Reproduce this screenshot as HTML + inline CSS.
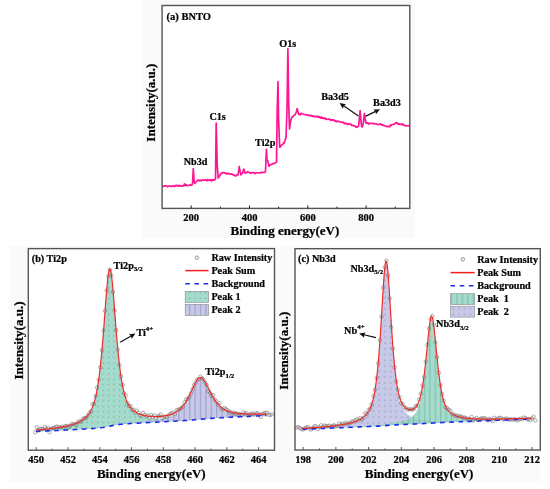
<!DOCTYPE html>
<html><head><meta charset="utf-8"><title>XPS BNTO</title>
<style>html,body{margin:0;padding:0;background:#fff;} svg{display:block;}</style>
</head><body>
<svg width="550" height="489" viewBox="0 0 550 489" font-family="'Liberation Serif','Times New Roman',serif" font-weight="bold">
<style>text{fill:#000;stroke:#000;stroke-width:0.22px;}</style>
<defs>
<pattern id="dotsG" width="5.4" height="5.4" patternUnits="userSpaceOnUse" x="0" y="0"><rect width="5.4" height="5.4" fill="#94d5c3"/><circle cx="0.5" cy="1.3" r="0.8" fill="#6f9f90"/></pattern>
<pattern id="dotsP" width="5.7" height="5.7" patternUnits="userSpaceOnUse" x="0" y="0"><rect width="5.7" height="5.7" fill="#bebee4"/><circle cx="3.0" cy="1.1" r="0.8" fill="#9292b6"/></pattern>
<pattern id="strP" width="5.4" height="10" patternUnits="userSpaceOnUse" x="0" y="0"><rect width="5.4" height="10" fill="#bebee4"/><rect x="0" width="1.3" height="10" fill="#9494c8"/></pattern>
<pattern id="strG" width="5.4" height="10" patternUnits="userSpaceOnUse" x="0" y="0"><rect width="5.4" height="10" fill="#94d5c3"/><rect x="2.65" width="1.3" height="10" fill="#74b8a2"/></pattern>
<marker id="ah" viewBox="0 0 10 10" refX="9" refY="5" markerWidth="5" markerHeight="5" orient="auto-start-reverse" markerUnits="userSpaceOnUse"><path d="M0,0 L10,5 L0,10 z" fill="#111"/></marker>
</defs>
<rect width="550" height="489" fill="#fff"/>
<rect x="143" y="0" width="272" height="238" fill="#fafafa"/>
<rect x="162" y="5.5" width="247.7" height="203" fill="#fff"/>
<rect x="9.5" y="246" width="531" height="235.5" fill="#fafafa"/>
<rect x="28.3" y="248.6" width="246.2" height="201.6" fill="#fff"/>
<rect x="295" y="248.7" width="245.3" height="201.3" fill="#fff"/>
<polyline points="162,186.3 162.7,186.3 163.5,186.4 164.2,186.1 164.9,185.9 165.6,186 166.4,185.8 167.1,186.3 167.8,186.8 168.5,186 169.3,185.9 170,186.2 170.7,186.4 171.5,186.3 172.2,186.2 172.9,185.7 173.6,186.1 174.4,186.5 175.1,185.5 175.8,185.9 176.5,185.3 177.3,185.5 178,186.1 178.8,185.3 179.6,186 180.4,185.5 181.1,186.2 181.9,186.1 182.7,185.9 183.5,186 184.5,183.8 185.5,185.8 186.3,184.6 187.2,185.4 188,185.6 188.7,185.5 189.4,185.5 190.2,184.7 190.9,185.1 191.6,185.3 192.5,184 193.3,168.7 194.1,181 194.7,183.4 196,182 197.1,180.7 197.8,180.2 198.5,180.2 199.3,181 200,180.1 200.7,180.4 201.4,180.8 202.2,180 202.9,180.2 203.6,180.2 204.3,180.2 205,180.2 205.7,179.6 206.4,180.2 207.2,180.8 207.9,179.4 208.6,180.5 209.3,180.2 210,180.1 210.8,179.8 211.5,181 212.2,180.4 213,179.5 213.8,180.1 214.5,180 215.5,179 216.2,123.1 217.2,165 218.2,178.1 219.5,176 220.2,175 221,173.5 222.1,172.9 223.1,172.4 223.8,172.9 224.6,172.8 225.3,173.3 226,173.2 226.7,174 227.4,173.2 228.2,173.8 228.9,173.6 229.6,174 230.4,174.3 231.3,173.9 232.2,174.3 233,174.8 233.8,174.9 234.6,175.6 235.4,175.9 236.2,175.6 237.1,174.7 238,175 239.2,166.6 240.2,172 241,174.9 241.8,173.6 242.5,173 243.8,169.1 244.9,173.1 245.9,173 247,172.4 247.8,171.6 248.6,172.3 249.4,172.5 250.2,173.2 251,172.7 251.8,173 252.6,172.6 253.4,172.6 254.2,172.7 255,173.6 255.8,172.9 256.6,172.7 257.5,172.7 258.3,173 259.2,172.8 260,172.8 260.8,172.7 261.6,172.2 262.4,172.6 263.2,172.4 264,172.5 264.8,172.5 265.5,171.5 266.4,149.3 267,160.2 267.8,161 269,166.4 270,164.9 270.8,164.9 271.6,164.2 272.4,164.2 273.2,163.5 274,163.3 274.8,163.4 275.7,162.5 276.5,162.1 277.2,110 278,81.7 278.6,120 279.7,147.3 280.5,146.8 281.2,145.2 282,145 282.8,144.5 283.5,142.9 284.3,143 285.1,139.6 286,138 287,110 287.9,48.7 288.6,100 289.5,128.9 290.5,122 291.5,118 292.2,117.1 293,116.5 294,115.3 295,115 296.3,112 297.2,108.6 298,112 298.7,114.3 299.4,114.1 300.1,114.8 300.8,113.6 301.6,113.4 302.5,113.7 303.3,114.2 304.2,114.5 305,114.5 305.7,114.6 306.4,114.7 307.1,115.3 307.9,115.4 308.6,114.8 309.3,115.4 310,115.6 310.7,115.8 311.4,115.4 312.1,116.1 312.9,115.8 313.6,116.7 314.3,116.5 315,116.6 315.7,116.4 316.4,116.8 317.1,116.1 317.9,116.6 318.6,117.4 319.3,116.4 320,117.5 320.7,118 321.4,117 322.1,118.3 322.9,117.7 323.6,118.6 324.3,118.5 325,117.9 325.7,119.3 326.4,119.5 327.1,119 327.9,119 328.6,119.2 329.3,119 330,119.6 330.7,120.3 331.4,119.7 332.1,120.1 332.9,119.9 333.6,120.2 334.3,120.1 335,121.4 335.7,120.9 336.4,121.6 337.1,121.3 337.9,121.2 338.6,121.5 339.3,121.6 340,122 340.7,122.2 341.5,122.2 342.2,122.4 342.9,122.1 343.6,122.5 344.4,123.8 345.1,123 345.8,123 346.5,123.8 347.3,124.5 348,124 348.8,123.6 349.5,124.4 350.2,124.4 351,124.1 351.8,125.5 352.5,125.3 353.2,125.6 354,125.8 354.8,125.8 355.5,126.8 356.2,126.7 357,127.3 357.8,126.6 358.6,126 359.4,118 360.1,110.6 360.9,120 361.6,126.5 362.3,126.9 363.3,123 364.4,113.7 365.3,120 366.2,123.3 367,122.8 367.7,122.8 368.5,124 369.2,123.2 370,123.4 370.8,123.6 371.5,123.5 372.3,123.4 373.1,123.4 373.9,124 374.6,123.6 375.4,123.8 376.1,123.8 376.9,124 377.6,124.6 378.3,124.5 379.1,124.4 379.8,124.1 380.5,123.8 381.3,124.9 382,124.6 382.8,125.3 383.6,125.1 384.4,125.7 385.2,126.1 386,126 386.8,126.5 387.5,126.7 388.2,126.2 389,126.6 389.8,126.8 390.5,125 391.2,125.5 392,124.6 392.7,124.5 393.5,124.3 394.2,124.4 395,123.8 395.7,122.8 396.5,122.7 397.2,122.8 398,124 398.8,124.4 399.5,123.7 400.2,124.2 401,124.3 401.7,124.9 402.4,124 403.1,124 403.9,125.3 404.6,125.5 405.3,125.6 406,125.9 406.8,126 407.5,125.8 408.2,125.6 409,126.4" fill="none" stroke="#ff1493" stroke-width="1.7" stroke-linejoin="round"/>
<rect x="162.1" y="5.5" width="247.70" height="202.90" fill="none" stroke="#555" stroke-width="1.4"/>
<line x1="191.24" y1="208.4" x2="191.24" y2="205.4" stroke="#222" stroke-width="1"/>
<text x="191.24" y="221" font-size="10.5" text-anchor="middle">200</text>
<line x1="220.38" y1="208.4" x2="220.38" y2="206.6" stroke="#222" stroke-width="1"/>
<line x1="249.52" y1="208.4" x2="249.52" y2="205.4" stroke="#222" stroke-width="1"/>
<text x="249.52" y="221" font-size="10.5" text-anchor="middle">400</text>
<line x1="278.66" y1="208.4" x2="278.66" y2="206.6" stroke="#222" stroke-width="1"/>
<line x1="307.81" y1="208.4" x2="307.81" y2="205.4" stroke="#222" stroke-width="1"/>
<text x="307.81" y="221" font-size="10.5" text-anchor="middle">600</text>
<line x1="336.95" y1="208.4" x2="336.95" y2="206.6" stroke="#222" stroke-width="1"/>
<line x1="366.09" y1="208.4" x2="366.09" y2="205.4" stroke="#222" stroke-width="1"/>
<text x="366.09" y="221" font-size="10.5" text-anchor="middle">800</text>
<line x1="395.23" y1="208.4" x2="395.23" y2="206.6" stroke="#222" stroke-width="1"/>
<text x="284.9" y="235.4" font-size="13" text-anchor="middle">Binding energy(eV)</text>
<text transform="translate(155.2,102.65) rotate(-90)" font-size="13" text-anchor="middle">Intensity(a.u.)</text>
<text x="166.6" y="20" font-size="10.5">(a) BNTO</text>
<text x="183.7" y="165.4" font-size="10.2">Nb3d</text>
<text x="209.4" y="120.2" font-size="10.2">C1s</text>
<text x="255.1" y="145.9" font-size="10.2">Ti2p</text>
<text x="279.3" y="47.1" font-size="10.2">O1s</text>
<text x="321.2" y="100" font-size="10.2">Ba3d5</text>
<text x="373.1" y="106" font-size="10.2">Ba3d3</text>
<line x1="358.4" y1="116.1" x2="343.61" y2="105.85" stroke="#111" stroke-width="1.2"/><polygon points="339.5,103 345.97,104.20 343.77,105.96 342.89,108.64" fill="#111"/>
<line x1="365.4" y1="116.4" x2="375.61" y2="111.40" stroke="#111" stroke-width="1.2"/><polygon points="380.1,109.2 375.90,114.26 375.43,111.49 373.52,109.41" fill="#111"/>
<polygon points="35.90,430.17 36.36,430.13 36.82,430.09 37.29,430.05 37.75,430.01 38.21,429.97 38.67,429.93 39.13,429.89 39.60,429.85 40.06,429.81 40.52,429.77 40.98,429.73 41.45,429.69 41.91,429.65 42.37,429.60 42.83,429.56 43.29,429.52 43.76,429.47 44.22,429.43 44.68,429.38 45.14,429.34 45.60,429.29 46.07,429.25 46.53,429.20 46.99,429.15 47.45,429.10 47.92,429.06 48.38,429.01 48.84,428.96 49.30,428.90 49.76,428.85 50.23,428.80 50.69,428.75 51.15,428.70 51.61,428.64 52.07,428.59 52.54,428.53 53.00,428.47 53.46,428.42 53.92,428.36 54.38,428.30 54.85,428.24 55.31,428.18 55.77,428.12 56.23,428.05 56.70,427.99 57.16,427.92 57.62,427.86 58.08,427.79 58.54,427.72 59.01,427.65 59.47,427.58 59.93,427.50 60.39,427.43 60.85,427.35 61.32,427.28 61.78,427.20 62.24,427.12 62.70,427.04 63.17,426.95 63.63,426.87 64.09,426.78 64.55,426.69 65.01,426.60 65.48,426.50 65.94,426.41 66.40,426.31 66.86,426.21 67.32,426.11 67.79,426.00 68.25,425.89 68.71,425.78 69.17,425.67 69.64,425.55 70.10,425.43 70.56,425.31 71.02,425.18 71.48,425.05 71.95,424.91 72.41,424.78 72.87,424.63 73.33,424.49 73.79,424.33 74.26,424.18 74.72,424.02 75.18,423.85 75.64,423.68 76.10,423.50 76.57,423.32 77.03,423.12 77.49,422.93 77.95,422.72 78.42,422.51 78.88,422.29 79.34,422.06 79.80,421.82 80.26,421.58 80.73,421.32 81.19,421.05 81.65,420.77 82.11,420.48 82.57,420.18 83.04,419.86 83.50,419.53 83.96,419.18 84.42,418.82 84.89,418.44 85.35,418.03 85.81,417.61 86.27,417.17 86.73,416.69 87.20,416.20 87.66,415.67 88.12,415.11 88.58,414.51 89.04,413.88 89.51,413.20 89.97,412.47 90.43,411.69 90.89,410.85 91.35,409.95 91.82,408.98 92.28,407.93 92.74,406.80 93.20,405.57 93.67,404.24 94.13,402.80 94.59,401.23 95.05,399.54 95.51,397.69 95.98,395.70 96.44,393.53 96.90,391.18 97.36,388.64 97.82,385.90 98.29,382.93 98.75,379.74 99.21,376.32 99.67,372.64 100.14,368.71 100.60,364.51 101.06,360.05 101.52,355.32 101.98,350.32 102.45,345.07 102.91,339.58 103.37,333.86 103.83,327.96 104.29,321.91 104.76,315.75 105.22,309.57 105.68,303.45 106.14,297.47 106.61,291.75 107.07,286.42 107.53,281.61 107.99,277.45 108.45,274.06 108.92,271.57 109.38,270.06 109.84,269.57 110.30,270.13 110.76,271.71 111.23,274.25 111.69,277.65 112.15,281.80 112.61,286.57 113.07,291.83 113.54,297.45 114.00,303.30 114.46,309.28 114.92,315.30 115.39,321.27 115.85,327.14 116.31,332.85 116.77,338.37 117.23,343.66 117.70,348.72 118.16,353.52 118.62,358.06 119.08,362.34 119.54,366.36 120.01,370.12 120.47,373.62 120.93,376.89 121.39,379.93 121.86,382.74 122.32,385.34 122.78,387.74 123.24,389.96 123.70,392.00 124.17,393.88 124.63,395.61 125.09,397.20 125.55,398.66 126.01,400.00 126.48,401.23 126.94,402.37 127.40,403.41 127.86,404.38 128.32,405.27 128.79,406.09 129.25,406.85 129.71,407.55 130.17,408.20 130.64,408.81 131.10,409.38 131.56,409.91 132.02,410.40 132.48,410.87 132.95,411.30 133.41,411.71 133.87,412.10 134.33,412.46 134.79,412.80 135.26,413.12 135.72,413.43 136.18,413.72 136.64,414.00 137.11,414.26 137.57,414.51 138.03,414.74 138.49,414.97 138.95,415.18 139.42,415.38 139.88,415.58 140.34,415.76 140.80,415.94 141.26,416.10 141.73,416.26 142.19,416.42 142.65,416.56 143.11,416.70 143.57,416.84 144.04,416.97 144.50,417.09 144.96,417.20 145.42,417.32 145.89,417.42 146.35,417.52 146.81,417.62 147.27,417.72 147.73,417.81 148.20,417.89 148.66,417.97 149.12,418.05 149.58,418.13 150.04,418.20 150.51,418.27 150.97,418.33 151.43,418.40 151.89,418.46 152.36,418.52 152.82,418.57 153.28,418.62 153.74,418.67 154.20,418.72 154.67,418.77 155.13,418.81 155.59,418.86 156.05,418.90 156.51,418.94 156.98,418.97 157.44,419.01 157.90,419.04 158.36,419.07 158.83,419.10 159.29,419.13 159.75,419.16 160.21,419.19 160.67,419.21 161.14,419.24 161.60,419.26 162.06,419.28 162.52,419.30 162.98,419.32 163.45,419.34 163.91,419.35 164.37,419.37 164.83,419.38 165.29,419.40 165.76,419.41 166.22,419.42 166.68,419.43 167.14,419.44 167.61,419.45 168.07,419.46 168.53,419.47 168.99,419.48 169.45,419.48 169.92,419.49 170.38,419.49 170.84,419.50 171.30,419.50 171.76,419.50 172.23,419.50 172.69,419.51 173.15,419.51 173.61,419.51 174.08,419.51 174.54,419.50 175.00,419.50 175.46,419.50 175.92,419.50 176.39,419.49 176.85,419.49 177.31,419.48 177.77,419.48 178.23,419.47 178.70,419.47 179.16,419.46 179.62,419.45 180.08,419.44 180.54,419.44 181.01,419.43 181.47,419.42 181.93,419.40 182.39,419.39 182.86,419.38 183.32,419.37 183.78,419.36 184.24,419.34 184.70,419.33 185.17,419.31 185.63,419.30 186.09,419.28 186.55,419.27 187.01,419.25 187.48,419.23 187.94,419.21 188.40,419.19 188.86,419.17 189.33,419.15 189.79,419.13 190.25,419.11 190.71,419.08 191.17,419.06 191.64,419.04 192.10,419.01 192.56,418.98 193.02,418.96 193.48,418.93 193.95,418.90 194.41,418.87 194.87,418.85 195.33,418.82 195.79,418.78 196.26,418.75 196.72,418.72 197.18,418.69 197.64,418.66 198.11,418.62 198.57,418.59 199.03,418.56 199.49,418.52 199.95,418.49 200.42,418.45 200.88,418.42 201.34,418.38 201.80,418.35 202.26,418.32 202.73,418.28 203.19,418.25 203.65,418.21 204.11,418.18 204.58,418.14 205.04,418.11 205.50,418.08 205.96,418.05 206.42,418.01 206.89,417.98 207.35,417.95 207.81,417.92 208.27,417.89 208.73,417.86 209.20,417.83 209.66,417.80 210.12,417.77 210.58,417.74 211.05,417.71 211.51,417.68 211.97,417.66 212.43,417.63 212.89,417.60 213.36,417.58 213.82,417.55 214.28,417.53 214.74,417.50 215.20,417.48 215.67,417.45 216.13,417.43 216.59,417.40 217.05,417.38 217.51,417.36 217.98,417.33 218.44,417.31 218.90,417.29 219.36,417.27 219.83,417.24 220.29,417.22 220.75,417.20 221.21,417.18 221.67,417.16 222.14,417.13 222.60,417.11 223.06,417.09 223.52,417.07 223.98,417.05 224.45,417.03 224.91,417.01 225.37,416.99 225.83,416.97 226.30,416.95 226.76,416.93 227.22,416.91 227.68,416.89 228.14,416.87 228.61,416.85 229.07,416.83 229.53,416.81 229.99,416.79 230.45,416.77 230.92,416.75 231.38,416.73 231.84,416.71 232.30,416.69 232.76,416.67 233.23,416.65 233.69,416.63 234.15,416.61 234.61,416.59 235.08,416.57 235.54,416.55 236.00,416.53 236.46,416.51 236.92,416.49 237.39,416.47 237.85,416.45 238.31,416.43 238.77,416.41 239.23,416.39 239.70,416.37 240.16,416.35 240.62,416.33 241.08,416.31 241.55,416.29 242.01,416.27 242.47,416.25 242.93,416.23 243.39,416.21 243.86,416.20 244.32,416.18 244.78,416.16 245.24,416.14 245.70,416.12 246.17,416.10 246.63,416.08 247.09,416.06 247.55,416.04 248.02,416.02 248.48,416.00 248.94,415.98 249.40,415.96 249.86,415.94 250.33,415.92 250.79,415.90 251.25,415.88 251.71,415.86 252.17,415.84 252.64,415.82 253.10,415.80 253.56,415.78 254.02,415.76 254.48,415.74 254.95,415.72 255.41,415.70 255.87,415.69 256.33,415.67 256.80,415.65 257.26,415.63 257.72,415.61 258.18,415.59 258.64,415.57 259.11,415.55 259.57,415.53 260.03,415.51 260.49,415.49 260.95,415.47 261.42,415.45 261.88,415.43 262.34,415.41 262.80,415.39 263.27,415.37 263.73,415.35 264.19,415.33 264.65,415.31 265.11,415.29 265.58,415.27 266.04,415.25 266.50,415.23 266.50,415.52 266.04,415.54 265.58,415.57 265.11,415.59 264.65,415.61 264.19,415.63 263.73,415.65 263.27,415.67 262.80,415.70 262.34,415.72 261.88,415.74 261.42,415.76 260.95,415.78 260.49,415.80 260.03,415.82 259.57,415.85 259.11,415.87 258.64,415.89 258.18,415.91 257.72,415.93 257.26,415.96 256.80,415.98 256.33,416.00 255.87,416.02 255.41,416.04 254.95,416.06 254.48,416.09 254.02,416.11 253.56,416.13 253.10,416.15 252.64,416.17 252.17,416.20 251.71,416.22 251.25,416.24 250.79,416.26 250.33,416.28 249.86,416.31 249.40,416.33 248.94,416.35 248.48,416.37 248.02,416.39 247.55,416.42 247.09,416.44 246.63,416.46 246.17,416.48 245.70,416.50 245.24,416.53 244.78,416.55 244.32,416.57 243.86,416.59 243.39,416.62 242.93,416.64 242.47,416.66 242.01,416.68 241.55,416.71 241.08,416.73 240.62,416.75 240.16,416.77 239.70,416.80 239.23,416.82 238.77,416.84 238.31,416.86 237.85,416.89 237.39,416.91 236.92,416.93 236.46,416.95 236.00,416.98 235.54,417.00 235.08,417.02 234.61,417.05 234.15,417.07 233.69,417.09 233.23,417.12 232.76,417.14 232.30,417.16 231.84,417.19 231.38,417.21 230.92,417.23 230.45,417.26 229.99,417.28 229.53,417.30 229.07,417.33 228.61,417.35 228.14,417.38 227.68,417.40 227.22,417.42 226.76,417.45 226.30,417.47 225.83,417.50 225.37,417.52 224.91,417.55 224.45,417.57 223.98,417.60 223.52,417.62 223.06,417.65 222.60,417.67 222.14,417.70 221.67,417.73 221.21,417.75 220.75,417.78 220.29,417.81 219.83,417.83 219.36,417.86 218.90,417.89 218.44,417.92 217.98,417.94 217.51,417.97 217.05,418.00 216.59,418.03 216.13,418.06 215.67,418.09 215.20,418.12 214.74,418.15 214.28,418.18 213.82,418.21 213.36,418.24 212.89,418.28 212.43,418.31 211.97,418.34 211.51,418.37 211.05,418.41 210.58,418.44 210.12,418.48 209.66,418.51 209.20,418.55 208.73,418.59 208.27,418.62 207.81,418.66 207.35,418.70 206.89,418.74 206.42,418.78 205.96,418.82 205.50,418.86 205.04,418.90 204.58,418.94 204.11,418.98 203.65,419.02 203.19,419.06 202.73,419.11 202.26,419.15 201.80,419.19 201.34,419.23 200.88,419.28 200.42,419.32 199.95,419.36 199.49,419.41 199.03,419.45 198.57,419.49 198.11,419.54 197.64,419.58 197.18,419.62 196.72,419.66 196.26,419.71 195.79,419.75 195.33,419.79 194.87,419.83 194.41,419.87 193.95,419.91 193.48,419.95 193.02,419.99 192.56,420.02 192.10,420.06 191.64,420.10 191.17,420.13 190.71,420.17 190.25,420.21 189.79,420.24 189.33,420.27 188.86,420.31 188.40,420.34 187.94,420.37 187.48,420.41 187.01,420.44 186.55,420.47 186.09,420.50 185.63,420.53 185.17,420.56 184.70,420.59 184.24,420.62 183.78,420.65 183.32,420.68 182.86,420.71 182.39,420.74 181.93,420.77 181.47,420.80 181.01,420.82 180.54,420.85 180.08,420.88 179.62,420.91 179.16,420.93 178.70,420.96 178.23,420.99 177.77,421.01 177.31,421.04 176.85,421.06 176.39,421.09 175.92,421.12 175.46,421.14 175.00,421.17 174.54,421.19 174.08,421.22 173.61,421.24 173.15,421.27 172.69,421.29 172.23,421.32 171.76,421.34 171.30,421.37 170.84,421.39 170.38,421.42 169.92,421.44 169.45,421.46 168.99,421.49 168.53,421.51 168.07,421.54 167.61,421.56 167.14,421.59 166.68,421.61 166.22,421.63 165.76,421.66 165.29,421.68 164.83,421.71 164.37,421.73 163.91,421.75 163.45,421.78 162.98,421.80 162.52,421.83 162.06,421.85 161.60,421.87 161.14,421.90 160.67,421.92 160.21,421.94 159.75,421.97 159.29,421.99 158.83,422.02 158.36,422.04 157.90,422.06 157.44,422.09 156.98,422.11 156.51,422.13 156.05,422.16 155.59,422.18 155.13,422.21 154.67,422.23 154.20,422.25 153.74,422.28 153.28,422.30 152.82,422.33 152.36,422.35 151.89,422.37 151.43,422.40 150.97,422.42 150.51,422.45 150.04,422.47 149.58,422.49 149.12,422.52 148.66,422.54 148.20,422.57 147.73,422.59 147.27,422.61 146.81,422.64 146.35,422.66 145.89,422.69 145.42,422.71 144.96,422.74 144.50,422.76 144.04,422.79 143.57,422.81 143.11,422.84 142.65,422.86 142.19,422.89 141.73,422.91 141.26,422.94 140.80,422.96 140.34,422.99 139.88,423.01 139.42,423.04 138.95,423.06 138.49,423.09 138.03,423.12 137.57,423.14 137.11,423.17 136.64,423.19 136.18,423.22 135.72,423.25 135.26,423.27 134.79,423.30 134.33,423.33 133.87,423.36 133.41,423.38 132.95,423.41 132.48,423.44 132.02,423.47 131.56,423.50 131.10,423.52 130.64,423.55 130.17,423.58 129.71,423.61 129.25,423.64 128.79,423.67 128.32,423.70 127.86,423.74 127.40,423.77 126.94,423.80 126.48,423.83 126.01,423.87 125.55,423.90 125.09,423.94 124.63,423.97 124.17,424.01 123.70,424.05 123.24,424.09 122.78,424.13 122.32,424.17 121.86,424.21 121.39,424.26 120.93,424.30 120.47,424.35 120.01,424.40 119.54,424.45 119.08,424.50 118.62,424.56 118.16,424.62 117.70,424.68 117.23,424.74 116.77,424.81 116.31,424.88 115.85,424.95 115.39,425.03 114.92,425.11 114.46,425.19 114.00,425.27 113.54,425.36 113.07,425.45 112.61,425.55 112.15,425.65 111.69,425.75 111.23,425.85 110.76,425.95 110.30,426.06 109.84,426.16 109.38,426.27 108.92,426.37 108.45,426.48 107.99,426.58 107.53,426.68 107.07,426.78 106.61,426.87 106.14,426.97 105.68,427.06 105.22,427.14 104.76,427.23 104.29,427.30 103.83,427.38 103.37,427.45 102.91,427.52 102.45,427.59 101.98,427.66 101.52,427.72 101.06,427.78 100.60,427.83 100.14,427.89 99.67,427.94 99.21,427.99 98.75,428.04 98.29,428.08 97.82,428.13 97.36,428.17 96.90,428.21 96.44,428.25 95.98,428.29 95.51,428.33 95.05,428.37 94.59,428.40 94.13,428.44 93.67,428.47 93.20,428.51 92.74,428.54 92.28,428.57 91.82,428.60 91.35,428.64 90.89,428.67 90.43,428.70 89.97,428.73 89.51,428.76 89.04,428.79 88.58,428.81 88.12,428.84 87.66,428.87 87.20,428.90 86.73,428.93 86.27,428.95 85.81,428.98 85.35,429.01 84.89,429.04 84.42,429.06 83.96,429.09 83.50,429.11 83.04,429.14 82.57,429.17 82.11,429.19 81.65,429.22 81.19,429.24 80.73,429.27 80.26,429.29 79.80,429.32 79.34,429.34 78.88,429.37 78.42,429.39 77.95,429.42 77.49,429.44 77.03,429.47 76.57,429.49 76.10,429.52 75.64,429.54 75.18,429.56 74.72,429.59 74.26,429.61 73.79,429.64 73.33,429.66 72.87,429.68 72.41,429.71 71.95,429.73 71.48,429.75 71.02,429.78 70.56,429.80 70.10,429.82 69.64,429.85 69.17,429.87 68.71,429.89 68.25,429.92 67.79,429.94 67.32,429.96 66.86,429.99 66.40,430.01 65.94,430.03 65.48,430.05 65.01,430.08 64.55,430.10 64.09,430.12 63.63,430.15 63.17,430.17 62.70,430.19 62.24,430.21 61.78,430.24 61.32,430.26 60.85,430.28 60.39,430.30 59.93,430.33 59.47,430.35 59.01,430.37 58.54,430.39 58.08,430.42 57.62,430.44 57.16,430.46 56.70,430.48 56.23,430.51 55.77,430.53 55.31,430.55 54.85,430.57 54.38,430.59 53.92,430.62 53.46,430.64 53.00,430.66 52.54,430.68 52.07,430.70 51.61,430.73 51.15,430.75 50.69,430.77 50.23,430.79 49.76,430.81 49.30,430.84 48.84,430.86 48.38,430.88 47.92,430.90 47.45,430.92 46.99,430.95 46.53,430.97 46.07,430.99 45.60,431.01 45.14,431.03 44.68,431.06 44.22,431.08 43.76,431.10 43.29,431.12 42.83,431.14 42.37,431.16 41.91,431.19 41.45,431.21 40.98,431.23 40.52,431.25 40.06,431.27 39.60,431.29 39.13,431.32 38.67,431.34 38.21,431.36 37.75,431.38 37.29,431.40 36.82,431.42 36.36,431.45 35.90,431.47" fill="url(#dotsG)" stroke="none" fill-opacity="0.85"/>
<polygon points="35.90,431.28 36.36,431.26 36.82,431.24 37.29,431.22 37.75,431.19 38.21,431.17 38.67,431.15 39.13,431.13 39.60,431.10 40.06,431.08 40.52,431.06 40.98,431.03 41.45,431.01 41.91,430.99 42.37,430.97 42.83,430.94 43.29,430.92 43.76,430.90 44.22,430.87 44.68,430.85 45.14,430.83 45.60,430.81 46.07,430.78 46.53,430.76 46.99,430.74 47.45,430.71 47.92,430.69 48.38,430.67 48.84,430.64 49.30,430.62 49.76,430.60 50.23,430.57 50.69,430.55 51.15,430.53 51.61,430.50 52.07,430.48 52.54,430.46 53.00,430.43 53.46,430.41 53.92,430.39 54.38,430.36 54.85,430.34 55.31,430.32 55.77,430.29 56.23,430.27 56.70,430.24 57.16,430.22 57.62,430.20 58.08,430.17 58.54,430.15 59.01,430.12 59.47,430.10 59.93,430.08 60.39,430.05 60.85,430.03 61.32,430.00 61.78,429.98 62.24,429.96 62.70,429.93 63.17,429.91 63.63,429.88 64.09,429.86 64.55,429.83 65.01,429.81 65.48,429.78 65.94,429.76 66.40,429.73 66.86,429.71 67.32,429.68 67.79,429.66 68.25,429.63 68.71,429.61 69.17,429.58 69.64,429.56 70.10,429.53 70.56,429.51 71.02,429.48 71.48,429.46 71.95,429.43 72.41,429.41 72.87,429.38 73.33,429.35 73.79,429.33 74.26,429.30 74.72,429.28 75.18,429.25 75.64,429.22 76.10,429.20 76.57,429.17 77.03,429.14 77.49,429.12 77.95,429.09 78.42,429.06 78.88,429.04 79.34,429.01 79.80,428.98 80.26,428.95 80.73,428.93 81.19,428.90 81.65,428.87 82.11,428.84 82.57,428.81 83.04,428.78 83.50,428.75 83.96,428.73 84.42,428.70 84.89,428.67 85.35,428.64 85.81,428.61 86.27,428.58 86.73,428.55 87.20,428.52 87.66,428.48 88.12,428.45 88.58,428.42 89.04,428.39 89.51,428.36 89.97,428.32 90.43,428.29 90.89,428.26 91.35,428.22 91.82,428.19 92.28,428.15 92.74,428.12 93.20,428.08 93.67,428.04 94.13,428.00 94.59,427.96 95.05,427.92 95.51,427.88 95.98,427.84 96.44,427.80 96.90,427.75 97.36,427.71 97.82,427.66 98.29,427.61 98.75,427.56 99.21,427.51 99.67,427.46 100.14,427.40 100.60,427.34 101.06,427.28 101.52,427.22 101.98,427.15 102.45,427.08 102.91,427.01 103.37,426.93 103.83,426.86 104.29,426.77 104.76,426.69 105.22,426.60 105.68,426.51 106.14,426.42 106.61,426.32 107.07,426.22 107.53,426.11 107.99,426.01 108.45,425.90 108.92,425.79 109.38,425.68 109.84,425.57 110.30,425.46 110.76,425.34 111.23,425.23 111.69,425.13 112.15,425.02 112.61,424.92 113.07,424.81 113.54,424.72 114.00,424.62 114.46,424.53 114.92,424.44 115.39,424.35 115.85,424.27 116.31,424.19 116.77,424.11 117.23,424.04 117.70,423.97 118.16,423.90 118.62,423.83 119.08,423.77 119.54,423.71 120.01,423.65 120.47,423.59 120.93,423.53 121.39,423.48 121.86,423.43 122.32,423.37 122.78,423.32 123.24,423.27 123.70,423.22 124.17,423.18 124.63,423.13 125.09,423.08 125.55,423.04 126.01,422.99 126.48,422.95 126.94,422.90 127.40,422.86 127.86,422.82 128.32,422.77 128.79,422.73 129.25,422.69 129.71,422.65 130.17,422.60 130.64,422.56 131.10,422.52 131.56,422.48 132.02,422.44 132.48,422.40 132.95,422.35 133.41,422.31 133.87,422.27 134.33,422.23 134.79,422.19 135.26,422.14 135.72,422.10 136.18,422.06 136.64,422.02 137.11,421.97 137.57,421.93 138.03,421.89 138.49,421.84 138.95,421.80 139.42,421.75 139.88,421.71 140.34,421.66 140.80,421.62 141.26,421.57 141.73,421.53 142.19,421.48 142.65,421.44 143.11,421.39 143.57,421.34 144.04,421.29 144.50,421.25 144.96,421.20 145.42,421.15 145.89,421.10 146.35,421.05 146.81,421.00 147.27,420.94 147.73,420.89 148.20,420.84 148.66,420.79 149.12,420.73 149.58,420.68 150.04,420.62 150.51,420.56 150.97,420.51 151.43,420.45 151.89,420.39 152.36,420.33 152.82,420.27 153.28,420.21 153.74,420.15 154.20,420.08 154.67,420.02 155.13,419.95 155.59,419.88 156.05,419.81 156.51,419.74 156.98,419.67 157.44,419.60 157.90,419.52 158.36,419.45 158.83,419.37 159.29,419.29 159.75,419.21 160.21,419.13 160.67,419.04 161.14,418.95 161.60,418.87 162.06,418.77 162.52,418.68 162.98,418.58 163.45,418.48 163.91,418.38 164.37,418.27 164.83,418.16 165.29,418.05 165.76,417.93 166.22,417.81 166.68,417.69 167.14,417.56 167.61,417.43 168.07,417.29 168.53,417.14 168.99,416.99 169.45,416.84 169.92,416.67 170.38,416.51 170.84,416.33 171.30,416.15 171.76,415.95 172.23,415.75 172.69,415.54 173.15,415.32 173.61,415.09 174.08,414.85 174.54,414.60 175.00,414.34 175.46,414.06 175.92,413.77 176.39,413.46 176.85,413.15 177.31,412.81 177.77,412.46 178.23,412.09 178.70,411.71 179.16,411.31 179.62,410.88 180.08,410.44 180.54,409.98 181.01,409.50 181.47,408.99 181.93,408.47 182.39,407.91 182.86,407.34 183.32,406.74 183.78,406.12 184.24,405.47 184.70,404.80 185.17,404.10 185.63,403.37 186.09,402.62 186.55,401.85 187.01,401.04 187.48,400.22 187.94,399.36 188.40,398.49 188.86,397.59 189.33,396.67 189.79,395.73 190.25,394.77 190.71,393.79 191.17,392.81 191.64,391.81 192.10,390.80 192.56,389.80 193.02,388.80 193.48,387.80 193.95,386.82 194.41,385.86 194.87,384.92 195.33,384.02 195.79,383.15 196.26,382.34 196.72,381.58 197.18,380.89 197.64,380.27 198.11,379.73 198.57,379.27 199.03,378.90 199.49,378.63 199.95,378.45 200.42,378.38 200.88,378.40 201.34,378.53 201.80,378.75 202.26,379.06 202.73,379.46 203.19,379.95 203.65,380.51 204.11,381.14 204.58,381.84 205.04,382.59 205.50,383.38 205.96,384.22 206.42,385.08 206.89,385.98 207.35,386.89 207.81,387.81 208.27,388.74 208.73,389.67 209.20,390.60 209.66,391.52 210.12,392.43 210.58,393.33 211.05,394.21 211.51,395.08 211.97,395.93 212.43,396.75 212.89,397.55 213.36,398.33 213.82,399.09 214.28,399.82 214.74,400.52 215.20,401.20 215.67,401.86 216.13,402.49 216.59,403.10 217.05,403.68 217.51,404.23 217.98,404.77 218.44,405.28 218.90,405.76 219.36,406.23 219.83,406.67 220.29,407.09 220.75,407.49 221.21,407.87 221.67,408.23 222.14,408.58 222.60,408.90 223.06,409.21 223.52,409.51 223.98,409.78 224.45,410.05 224.91,410.29 225.37,410.53 225.83,410.75 226.30,410.96 226.76,411.16 227.22,411.35 227.68,411.52 228.14,411.69 228.61,411.85 229.07,412.00 229.53,412.14 229.99,412.27 230.45,412.40 230.92,412.52 231.38,412.63 231.84,412.73 232.30,412.83 232.76,412.93 233.23,413.02 233.69,413.10 234.15,413.18 234.61,413.26 235.08,413.33 235.54,413.40 236.00,413.47 236.46,413.53 236.92,413.58 237.39,413.64 237.85,413.69 238.31,413.74 238.77,413.79 239.23,413.83 239.70,413.88 240.16,413.92 240.62,413.95 241.08,413.99 241.55,414.02 242.01,414.06 242.47,414.09 242.93,414.12 243.39,414.14 243.86,414.17 244.32,414.20 244.78,414.22 245.24,414.24 245.70,414.26 246.17,414.28 246.63,414.30 247.09,414.32 247.55,414.34 248.02,414.35 248.48,414.36 248.94,414.38 249.40,414.39 249.86,414.40 250.33,414.41 250.79,414.42 251.25,414.43 251.71,414.44 252.17,414.45 252.64,414.46 253.10,414.46 253.56,414.47 254.02,414.47 254.48,414.48 254.95,414.48 255.41,414.49 255.87,414.49 256.33,414.49 256.80,414.49 257.26,414.49 257.72,414.49 258.18,414.49 258.64,414.49 259.11,414.49 259.57,414.49 260.03,414.49 260.49,414.49 260.95,414.49 261.42,414.48 261.88,414.48 262.34,414.48 262.80,414.47 263.27,414.47 263.73,414.46 264.19,414.46 264.65,414.45 265.11,414.45 265.58,414.44 266.04,414.43 266.50,414.43 266.50,415.52 266.04,415.54 265.58,415.57 265.11,415.59 264.65,415.61 264.19,415.63 263.73,415.65 263.27,415.67 262.80,415.70 262.34,415.72 261.88,415.74 261.42,415.76 260.95,415.78 260.49,415.80 260.03,415.82 259.57,415.85 259.11,415.87 258.64,415.89 258.18,415.91 257.72,415.93 257.26,415.96 256.80,415.98 256.33,416.00 255.87,416.02 255.41,416.04 254.95,416.06 254.48,416.09 254.02,416.11 253.56,416.13 253.10,416.15 252.64,416.17 252.17,416.20 251.71,416.22 251.25,416.24 250.79,416.26 250.33,416.28 249.86,416.31 249.40,416.33 248.94,416.35 248.48,416.37 248.02,416.39 247.55,416.42 247.09,416.44 246.63,416.46 246.17,416.48 245.70,416.50 245.24,416.53 244.78,416.55 244.32,416.57 243.86,416.59 243.39,416.62 242.93,416.64 242.47,416.66 242.01,416.68 241.55,416.71 241.08,416.73 240.62,416.75 240.16,416.77 239.70,416.80 239.23,416.82 238.77,416.84 238.31,416.86 237.85,416.89 237.39,416.91 236.92,416.93 236.46,416.95 236.00,416.98 235.54,417.00 235.08,417.02 234.61,417.05 234.15,417.07 233.69,417.09 233.23,417.12 232.76,417.14 232.30,417.16 231.84,417.19 231.38,417.21 230.92,417.23 230.45,417.26 229.99,417.28 229.53,417.30 229.07,417.33 228.61,417.35 228.14,417.38 227.68,417.40 227.22,417.42 226.76,417.45 226.30,417.47 225.83,417.50 225.37,417.52 224.91,417.55 224.45,417.57 223.98,417.60 223.52,417.62 223.06,417.65 222.60,417.67 222.14,417.70 221.67,417.73 221.21,417.75 220.75,417.78 220.29,417.81 219.83,417.83 219.36,417.86 218.90,417.89 218.44,417.92 217.98,417.94 217.51,417.97 217.05,418.00 216.59,418.03 216.13,418.06 215.67,418.09 215.20,418.12 214.74,418.15 214.28,418.18 213.82,418.21 213.36,418.24 212.89,418.28 212.43,418.31 211.97,418.34 211.51,418.37 211.05,418.41 210.58,418.44 210.12,418.48 209.66,418.51 209.20,418.55 208.73,418.59 208.27,418.62 207.81,418.66 207.35,418.70 206.89,418.74 206.42,418.78 205.96,418.82 205.50,418.86 205.04,418.90 204.58,418.94 204.11,418.98 203.65,419.02 203.19,419.06 202.73,419.11 202.26,419.15 201.80,419.19 201.34,419.23 200.88,419.28 200.42,419.32 199.95,419.36 199.49,419.41 199.03,419.45 198.57,419.49 198.11,419.54 197.64,419.58 197.18,419.62 196.72,419.66 196.26,419.71 195.79,419.75 195.33,419.79 194.87,419.83 194.41,419.87 193.95,419.91 193.48,419.95 193.02,419.99 192.56,420.02 192.10,420.06 191.64,420.10 191.17,420.13 190.71,420.17 190.25,420.21 189.79,420.24 189.33,420.27 188.86,420.31 188.40,420.34 187.94,420.37 187.48,420.41 187.01,420.44 186.55,420.47 186.09,420.50 185.63,420.53 185.17,420.56 184.70,420.59 184.24,420.62 183.78,420.65 183.32,420.68 182.86,420.71 182.39,420.74 181.93,420.77 181.47,420.80 181.01,420.82 180.54,420.85 180.08,420.88 179.62,420.91 179.16,420.93 178.70,420.96 178.23,420.99 177.77,421.01 177.31,421.04 176.85,421.06 176.39,421.09 175.92,421.12 175.46,421.14 175.00,421.17 174.54,421.19 174.08,421.22 173.61,421.24 173.15,421.27 172.69,421.29 172.23,421.32 171.76,421.34 171.30,421.37 170.84,421.39 170.38,421.42 169.92,421.44 169.45,421.46 168.99,421.49 168.53,421.51 168.07,421.54 167.61,421.56 167.14,421.59 166.68,421.61 166.22,421.63 165.76,421.66 165.29,421.68 164.83,421.71 164.37,421.73 163.91,421.75 163.45,421.78 162.98,421.80 162.52,421.83 162.06,421.85 161.60,421.87 161.14,421.90 160.67,421.92 160.21,421.94 159.75,421.97 159.29,421.99 158.83,422.02 158.36,422.04 157.90,422.06 157.44,422.09 156.98,422.11 156.51,422.13 156.05,422.16 155.59,422.18 155.13,422.21 154.67,422.23 154.20,422.25 153.74,422.28 153.28,422.30 152.82,422.33 152.36,422.35 151.89,422.37 151.43,422.40 150.97,422.42 150.51,422.45 150.04,422.47 149.58,422.49 149.12,422.52 148.66,422.54 148.20,422.57 147.73,422.59 147.27,422.61 146.81,422.64 146.35,422.66 145.89,422.69 145.42,422.71 144.96,422.74 144.50,422.76 144.04,422.79 143.57,422.81 143.11,422.84 142.65,422.86 142.19,422.89 141.73,422.91 141.26,422.94 140.80,422.96 140.34,422.99 139.88,423.01 139.42,423.04 138.95,423.06 138.49,423.09 138.03,423.12 137.57,423.14 137.11,423.17 136.64,423.19 136.18,423.22 135.72,423.25 135.26,423.27 134.79,423.30 134.33,423.33 133.87,423.36 133.41,423.38 132.95,423.41 132.48,423.44 132.02,423.47 131.56,423.50 131.10,423.52 130.64,423.55 130.17,423.58 129.71,423.61 129.25,423.64 128.79,423.67 128.32,423.70 127.86,423.74 127.40,423.77 126.94,423.80 126.48,423.83 126.01,423.87 125.55,423.90 125.09,423.94 124.63,423.97 124.17,424.01 123.70,424.05 123.24,424.09 122.78,424.13 122.32,424.17 121.86,424.21 121.39,424.26 120.93,424.30 120.47,424.35 120.01,424.40 119.54,424.45 119.08,424.50 118.62,424.56 118.16,424.62 117.70,424.68 117.23,424.74 116.77,424.81 116.31,424.88 115.85,424.95 115.39,425.03 114.92,425.11 114.46,425.19 114.00,425.27 113.54,425.36 113.07,425.45 112.61,425.55 112.15,425.65 111.69,425.75 111.23,425.85 110.76,425.95 110.30,426.06 109.84,426.16 109.38,426.27 108.92,426.37 108.45,426.48 107.99,426.58 107.53,426.68 107.07,426.78 106.61,426.87 106.14,426.97 105.68,427.06 105.22,427.14 104.76,427.23 104.29,427.30 103.83,427.38 103.37,427.45 102.91,427.52 102.45,427.59 101.98,427.66 101.52,427.72 101.06,427.78 100.60,427.83 100.14,427.89 99.67,427.94 99.21,427.99 98.75,428.04 98.29,428.08 97.82,428.13 97.36,428.17 96.90,428.21 96.44,428.25 95.98,428.29 95.51,428.33 95.05,428.37 94.59,428.40 94.13,428.44 93.67,428.47 93.20,428.51 92.74,428.54 92.28,428.57 91.82,428.60 91.35,428.64 90.89,428.67 90.43,428.70 89.97,428.73 89.51,428.76 89.04,428.79 88.58,428.81 88.12,428.84 87.66,428.87 87.20,428.90 86.73,428.93 86.27,428.95 85.81,428.98 85.35,429.01 84.89,429.04 84.42,429.06 83.96,429.09 83.50,429.11 83.04,429.14 82.57,429.17 82.11,429.19 81.65,429.22 81.19,429.24 80.73,429.27 80.26,429.29 79.80,429.32 79.34,429.34 78.88,429.37 78.42,429.39 77.95,429.42 77.49,429.44 77.03,429.47 76.57,429.49 76.10,429.52 75.64,429.54 75.18,429.56 74.72,429.59 74.26,429.61 73.79,429.64 73.33,429.66 72.87,429.68 72.41,429.71 71.95,429.73 71.48,429.75 71.02,429.78 70.56,429.80 70.10,429.82 69.64,429.85 69.17,429.87 68.71,429.89 68.25,429.92 67.79,429.94 67.32,429.96 66.86,429.99 66.40,430.01 65.94,430.03 65.48,430.05 65.01,430.08 64.55,430.10 64.09,430.12 63.63,430.15 63.17,430.17 62.70,430.19 62.24,430.21 61.78,430.24 61.32,430.26 60.85,430.28 60.39,430.30 59.93,430.33 59.47,430.35 59.01,430.37 58.54,430.39 58.08,430.42 57.62,430.44 57.16,430.46 56.70,430.48 56.23,430.51 55.77,430.53 55.31,430.55 54.85,430.57 54.38,430.59 53.92,430.62 53.46,430.64 53.00,430.66 52.54,430.68 52.07,430.70 51.61,430.73 51.15,430.75 50.69,430.77 50.23,430.79 49.76,430.81 49.30,430.84 48.84,430.86 48.38,430.88 47.92,430.90 47.45,430.92 46.99,430.95 46.53,430.97 46.07,430.99 45.60,431.01 45.14,431.03 44.68,431.06 44.22,431.08 43.76,431.10 43.29,431.12 42.83,431.14 42.37,431.16 41.91,431.19 41.45,431.21 40.98,431.23 40.52,431.25 40.06,431.27 39.60,431.29 39.13,431.32 38.67,431.34 38.21,431.36 37.75,431.38 37.29,431.40 36.82,431.42 36.36,431.45 35.90,431.47" fill="url(#strP)" stroke="none" fill-opacity="0.85"/>
<circle cx="35.2" cy="432.3" r="1.7" fill="none" stroke="#777" stroke-width="0.6"/>
<circle cx="36.8" cy="427.1" r="1.7" fill="none" stroke="#777" stroke-width="0.6"/>
<circle cx="38.4" cy="430.2" r="1.7" fill="none" stroke="#777" stroke-width="0.6"/>
<circle cx="40.0" cy="429.0" r="1.7" fill="none" stroke="#777" stroke-width="0.6"/>
<circle cx="41.6" cy="429.0" r="1.7" fill="none" stroke="#777" stroke-width="0.6"/>
<circle cx="43.1" cy="429.1" r="1.7" fill="none" stroke="#777" stroke-width="0.6"/>
<circle cx="44.7" cy="427.0" r="1.7" fill="none" stroke="#777" stroke-width="0.6"/>
<circle cx="46.3" cy="428.8" r="1.7" fill="none" stroke="#777" stroke-width="0.6"/>
<circle cx="47.9" cy="427.9" r="1.7" fill="none" stroke="#777" stroke-width="0.6"/>
<circle cx="49.5" cy="432.3" r="1.7" fill="none" stroke="#777" stroke-width="0.6"/>
<circle cx="51.1" cy="428.7" r="1.7" fill="none" stroke="#777" stroke-width="0.6"/>
<circle cx="52.7" cy="427.9" r="1.7" fill="none" stroke="#777" stroke-width="0.6"/>
<circle cx="54.3" cy="427.8" r="1.7" fill="none" stroke="#777" stroke-width="0.6"/>
<circle cx="55.8" cy="427.1" r="1.7" fill="none" stroke="#777" stroke-width="0.6"/>
<circle cx="57.4" cy="426.5" r="1.7" fill="none" stroke="#777" stroke-width="0.6"/>
<circle cx="59.0" cy="427.0" r="1.7" fill="none" stroke="#777" stroke-width="0.6"/>
<circle cx="60.6" cy="427.7" r="1.7" fill="none" stroke="#777" stroke-width="0.6"/>
<circle cx="62.2" cy="426.6" r="1.7" fill="none" stroke="#777" stroke-width="0.6"/>
<circle cx="63.8" cy="427.6" r="1.7" fill="none" stroke="#777" stroke-width="0.6"/>
<circle cx="65.4" cy="426.0" r="1.7" fill="none" stroke="#777" stroke-width="0.6"/>
<circle cx="67.0" cy="425.9" r="1.7" fill="none" stroke="#777" stroke-width="0.6"/>
<circle cx="68.6" cy="427.2" r="1.7" fill="none" stroke="#777" stroke-width="0.6"/>
<circle cx="70.1" cy="425.7" r="1.7" fill="none" stroke="#777" stroke-width="0.6"/>
<circle cx="71.7" cy="424.1" r="1.7" fill="none" stroke="#777" stroke-width="0.6"/>
<circle cx="73.3" cy="424.0" r="1.7" fill="none" stroke="#777" stroke-width="0.6"/>
<circle cx="74.9" cy="424.2" r="1.7" fill="none" stroke="#777" stroke-width="0.6"/>
<circle cx="76.5" cy="425.2" r="1.7" fill="none" stroke="#777" stroke-width="0.6"/>
<circle cx="78.1" cy="422.0" r="1.7" fill="none" stroke="#777" stroke-width="0.6"/>
<circle cx="79.7" cy="421.3" r="1.7" fill="none" stroke="#777" stroke-width="0.6"/>
<circle cx="81.3" cy="421.8" r="1.7" fill="none" stroke="#777" stroke-width="0.6"/>
<circle cx="82.9" cy="418.7" r="1.7" fill="none" stroke="#777" stroke-width="0.6"/>
<circle cx="84.4" cy="418.1" r="1.7" fill="none" stroke="#777" stroke-width="0.6"/>
<circle cx="86.0" cy="418.0" r="1.7" fill="none" stroke="#777" stroke-width="0.6"/>
<circle cx="87.6" cy="416.0" r="1.7" fill="none" stroke="#777" stroke-width="0.6"/>
<circle cx="89.2" cy="413.3" r="1.7" fill="none" stroke="#777" stroke-width="0.6"/>
<circle cx="90.8" cy="411.4" r="1.7" fill="none" stroke="#777" stroke-width="0.6"/>
<circle cx="92.4" cy="404.2" r="1.7" fill="none" stroke="#777" stroke-width="0.6"/>
<circle cx="94.0" cy="404.0" r="1.7" fill="none" stroke="#777" stroke-width="0.6"/>
<circle cx="95.6" cy="396.0" r="1.7" fill="none" stroke="#777" stroke-width="0.6"/>
<circle cx="97.1" cy="387.6" r="1.7" fill="none" stroke="#777" stroke-width="0.6"/>
<circle cx="98.7" cy="379.7" r="1.7" fill="none" stroke="#777" stroke-width="0.6"/>
<circle cx="100.3" cy="367.3" r="1.7" fill="none" stroke="#777" stroke-width="0.6"/>
<circle cx="101.9" cy="350.1" r="1.7" fill="none" stroke="#777" stroke-width="0.6"/>
<circle cx="103.5" cy="330.5" r="1.7" fill="none" stroke="#777" stroke-width="0.6"/>
<circle cx="105.1" cy="310.8" r="1.7" fill="none" stroke="#777" stroke-width="0.6"/>
<circle cx="106.7" cy="290.3" r="1.7" fill="none" stroke="#777" stroke-width="0.6"/>
<circle cx="108.3" cy="276.3" r="1.7" fill="none" stroke="#777" stroke-width="0.6"/>
<circle cx="109.9" cy="269.8" r="1.7" fill="none" stroke="#777" stroke-width="0.6"/>
<circle cx="111.4" cy="275.3" r="1.7" fill="none" stroke="#777" stroke-width="0.6"/>
<circle cx="113.0" cy="291.9" r="1.7" fill="none" stroke="#777" stroke-width="0.6"/>
<circle cx="114.6" cy="310.5" r="1.7" fill="none" stroke="#777" stroke-width="0.6"/>
<circle cx="116.2" cy="329.9" r="1.7" fill="none" stroke="#777" stroke-width="0.6"/>
<circle cx="117.8" cy="349.7" r="1.7" fill="none" stroke="#777" stroke-width="0.6"/>
<circle cx="119.4" cy="364.9" r="1.7" fill="none" stroke="#777" stroke-width="0.6"/>
<circle cx="121.0" cy="376.2" r="1.7" fill="none" stroke="#777" stroke-width="0.6"/>
<circle cx="122.6" cy="385.0" r="1.7" fill="none" stroke="#777" stroke-width="0.6"/>
<circle cx="124.1" cy="393.2" r="1.7" fill="none" stroke="#777" stroke-width="0.6"/>
<circle cx="125.7" cy="395.6" r="1.7" fill="none" stroke="#777" stroke-width="0.6"/>
<circle cx="127.3" cy="403.1" r="1.7" fill="none" stroke="#777" stroke-width="0.6"/>
<circle cx="128.9" cy="405.9" r="1.7" fill="none" stroke="#777" stroke-width="0.6"/>
<circle cx="130.5" cy="405.9" r="1.7" fill="none" stroke="#777" stroke-width="0.6"/>
<circle cx="132.1" cy="409.5" r="1.7" fill="none" stroke="#777" stroke-width="0.6"/>
<circle cx="133.7" cy="409.8" r="1.7" fill="none" stroke="#777" stroke-width="0.6"/>
<circle cx="135.3" cy="412.8" r="1.7" fill="none" stroke="#777" stroke-width="0.6"/>
<circle cx="136.9" cy="410.7" r="1.7" fill="none" stroke="#777" stroke-width="0.6"/>
<circle cx="138.4" cy="412.7" r="1.7" fill="none" stroke="#777" stroke-width="0.6"/>
<circle cx="140.0" cy="415.1" r="1.7" fill="none" stroke="#777" stroke-width="0.6"/>
<circle cx="141.6" cy="416.1" r="1.7" fill="none" stroke="#777" stroke-width="0.6"/>
<circle cx="143.2" cy="412.9" r="1.7" fill="none" stroke="#777" stroke-width="0.6"/>
<circle cx="144.8" cy="415.1" r="1.7" fill="none" stroke="#777" stroke-width="0.6"/>
<circle cx="146.4" cy="416.3" r="1.7" fill="none" stroke="#777" stroke-width="0.6"/>
<circle cx="148.0" cy="415.5" r="1.7" fill="none" stroke="#777" stroke-width="0.6"/>
<circle cx="149.6" cy="418.1" r="1.7" fill="none" stroke="#777" stroke-width="0.6"/>
<circle cx="151.2" cy="415.1" r="1.7" fill="none" stroke="#777" stroke-width="0.6"/>
<circle cx="152.7" cy="416.9" r="1.7" fill="none" stroke="#777" stroke-width="0.6"/>
<circle cx="154.3" cy="415.4" r="1.7" fill="none" stroke="#777" stroke-width="0.6"/>
<circle cx="155.9" cy="418.1" r="1.7" fill="none" stroke="#777" stroke-width="0.6"/>
<circle cx="157.5" cy="416.5" r="1.7" fill="none" stroke="#777" stroke-width="0.6"/>
<circle cx="159.1" cy="416.0" r="1.7" fill="none" stroke="#777" stroke-width="0.6"/>
<circle cx="160.7" cy="414.4" r="1.7" fill="none" stroke="#777" stroke-width="0.6"/>
<circle cx="162.3" cy="418.0" r="1.7" fill="none" stroke="#777" stroke-width="0.6"/>
<circle cx="163.9" cy="416.8" r="1.7" fill="none" stroke="#777" stroke-width="0.6"/>
<circle cx="165.4" cy="416.6" r="1.7" fill="none" stroke="#777" stroke-width="0.6"/>
<circle cx="167.0" cy="416.7" r="1.7" fill="none" stroke="#777" stroke-width="0.6"/>
<circle cx="168.6" cy="415.5" r="1.7" fill="none" stroke="#777" stroke-width="0.6"/>
<circle cx="170.2" cy="413.9" r="1.7" fill="none" stroke="#777" stroke-width="0.6"/>
<circle cx="171.8" cy="413.2" r="1.7" fill="none" stroke="#777" stroke-width="0.6"/>
<circle cx="173.4" cy="412.6" r="1.7" fill="none" stroke="#777" stroke-width="0.6"/>
<circle cx="175.0" cy="414.2" r="1.7" fill="none" stroke="#777" stroke-width="0.6"/>
<circle cx="176.6" cy="410.1" r="1.7" fill="none" stroke="#777" stroke-width="0.6"/>
<circle cx="178.2" cy="410.0" r="1.7" fill="none" stroke="#777" stroke-width="0.6"/>
<circle cx="179.7" cy="409.0" r="1.7" fill="none" stroke="#777" stroke-width="0.6"/>
<circle cx="181.3" cy="408.0" r="1.7" fill="none" stroke="#777" stroke-width="0.6"/>
<circle cx="182.9" cy="406.6" r="1.7" fill="none" stroke="#777" stroke-width="0.6"/>
<circle cx="184.5" cy="402.4" r="1.7" fill="none" stroke="#777" stroke-width="0.6"/>
<circle cx="186.1" cy="399.5" r="1.7" fill="none" stroke="#777" stroke-width="0.6"/>
<circle cx="187.7" cy="398.7" r="1.7" fill="none" stroke="#777" stroke-width="0.6"/>
<circle cx="189.3" cy="397.0" r="1.7" fill="none" stroke="#777" stroke-width="0.6"/>
<circle cx="190.9" cy="393.2" r="1.7" fill="none" stroke="#777" stroke-width="0.6"/>
<circle cx="192.5" cy="389.2" r="1.7" fill="none" stroke="#777" stroke-width="0.6"/>
<circle cx="194.0" cy="385.3" r="1.7" fill="none" stroke="#777" stroke-width="0.6"/>
<circle cx="195.6" cy="382.8" r="1.7" fill="none" stroke="#777" stroke-width="0.6"/>
<circle cx="197.2" cy="379.6" r="1.7" fill="none" stroke="#777" stroke-width="0.6"/>
<circle cx="198.8" cy="379.1" r="1.7" fill="none" stroke="#777" stroke-width="0.6"/>
<circle cx="200.4" cy="376.6" r="1.7" fill="none" stroke="#777" stroke-width="0.6"/>
<circle cx="202.0" cy="378.2" r="1.7" fill="none" stroke="#777" stroke-width="0.6"/>
<circle cx="203.6" cy="379.5" r="1.7" fill="none" stroke="#777" stroke-width="0.6"/>
<circle cx="205.2" cy="382.6" r="1.7" fill="none" stroke="#777" stroke-width="0.6"/>
<circle cx="206.7" cy="385.2" r="1.7" fill="none" stroke="#777" stroke-width="0.6"/>
<circle cx="208.3" cy="390.9" r="1.7" fill="none" stroke="#777" stroke-width="0.6"/>
<circle cx="209.9" cy="393.0" r="1.7" fill="none" stroke="#777" stroke-width="0.6"/>
<circle cx="211.5" cy="396.0" r="1.7" fill="none" stroke="#777" stroke-width="0.6"/>
<circle cx="213.1" cy="395.0" r="1.7" fill="none" stroke="#777" stroke-width="0.6"/>
<circle cx="214.7" cy="399.4" r="1.7" fill="none" stroke="#777" stroke-width="0.6"/>
<circle cx="216.3" cy="401.4" r="1.7" fill="none" stroke="#777" stroke-width="0.6"/>
<circle cx="217.9" cy="404.6" r="1.7" fill="none" stroke="#777" stroke-width="0.6"/>
<circle cx="219.5" cy="403.2" r="1.7" fill="none" stroke="#777" stroke-width="0.6"/>
<circle cx="221.0" cy="408.4" r="1.7" fill="none" stroke="#777" stroke-width="0.6"/>
<circle cx="222.6" cy="409.5" r="1.7" fill="none" stroke="#777" stroke-width="0.6"/>
<circle cx="224.2" cy="407.9" r="1.7" fill="none" stroke="#777" stroke-width="0.6"/>
<circle cx="225.8" cy="409.1" r="1.7" fill="none" stroke="#777" stroke-width="0.6"/>
<circle cx="227.4" cy="410.0" r="1.7" fill="none" stroke="#777" stroke-width="0.6"/>
<circle cx="229.0" cy="411.5" r="1.7" fill="none" stroke="#777" stroke-width="0.6"/>
<circle cx="230.6" cy="412.6" r="1.7" fill="none" stroke="#777" stroke-width="0.6"/>
<circle cx="232.2" cy="414.6" r="1.7" fill="none" stroke="#777" stroke-width="0.6"/>
<circle cx="233.7" cy="412.4" r="1.7" fill="none" stroke="#777" stroke-width="0.6"/>
<circle cx="235.3" cy="413.8" r="1.7" fill="none" stroke="#777" stroke-width="0.6"/>
<circle cx="236.9" cy="413.3" r="1.7" fill="none" stroke="#777" stroke-width="0.6"/>
<circle cx="238.5" cy="415.3" r="1.7" fill="none" stroke="#777" stroke-width="0.6"/>
<circle cx="240.1" cy="414.3" r="1.7" fill="none" stroke="#777" stroke-width="0.6"/>
<circle cx="241.7" cy="415.1" r="1.7" fill="none" stroke="#777" stroke-width="0.6"/>
<circle cx="243.3" cy="412.6" r="1.7" fill="none" stroke="#777" stroke-width="0.6"/>
<circle cx="244.9" cy="413.6" r="1.7" fill="none" stroke="#777" stroke-width="0.6"/>
<circle cx="246.5" cy="413.0" r="1.7" fill="none" stroke="#777" stroke-width="0.6"/>
<circle cx="248.0" cy="415.6" r="1.7" fill="none" stroke="#777" stroke-width="0.6"/>
<circle cx="249.6" cy="414.8" r="1.7" fill="none" stroke="#777" stroke-width="0.6"/>
<circle cx="251.2" cy="413.7" r="1.7" fill="none" stroke="#777" stroke-width="0.6"/>
<circle cx="252.8" cy="413.6" r="1.7" fill="none" stroke="#777" stroke-width="0.6"/>
<circle cx="254.4" cy="414.7" r="1.7" fill="none" stroke="#777" stroke-width="0.6"/>
<circle cx="256.0" cy="413.4" r="1.7" fill="none" stroke="#777" stroke-width="0.6"/>
<circle cx="257.6" cy="413.1" r="1.7" fill="none" stroke="#777" stroke-width="0.6"/>
<circle cx="259.2" cy="414.7" r="1.7" fill="none" stroke="#777" stroke-width="0.6"/>
<circle cx="260.8" cy="416.9" r="1.7" fill="none" stroke="#777" stroke-width="0.6"/>
<circle cx="262.3" cy="413.9" r="1.7" fill="none" stroke="#777" stroke-width="0.6"/>
<circle cx="263.9" cy="413.5" r="1.7" fill="none" stroke="#777" stroke-width="0.6"/>
<circle cx="265.5" cy="412.9" r="1.7" fill="none" stroke="#777" stroke-width="0.6"/>
<circle cx="267.1" cy="412.7" r="1.7" fill="none" stroke="#777" stroke-width="0.6"/>
<circle cx="268.7" cy="414.8" r="1.7" fill="none" stroke="#777" stroke-width="0.6"/>
<circle cx="270.3" cy="415.2" r="1.7" fill="none" stroke="#777" stroke-width="0.6"/>
<circle cx="271.9" cy="414.3" r="1.7" fill="none" stroke="#777" stroke-width="0.6"/>
<polyline points="35.90,431.47 38.21,431.36 40.52,431.25 42.83,431.14 45.14,431.03 47.45,430.92 49.76,430.81 52.07,430.70 54.38,430.59 56.70,430.48 59.01,430.37 61.32,430.26 63.63,430.15 65.94,430.03 68.25,429.92 70.56,429.80 72.87,429.68 75.18,429.56 77.49,429.44 79.80,429.32 82.11,429.19 84.42,429.06 86.73,428.93 89.04,428.79 91.35,428.64 93.67,428.47 95.98,428.29 98.29,428.08 100.60,427.83 102.91,427.52 105.22,427.14 107.53,426.68 109.84,426.16 112.15,425.65 114.46,425.19 116.77,424.81 119.08,424.50 121.39,424.26 123.70,424.05 126.01,423.87 128.32,423.70 130.64,423.55 132.95,423.41 135.26,423.27 137.57,423.14 139.88,423.01 142.19,422.89 144.50,422.76 146.81,422.64 149.12,422.52 151.43,422.40 153.74,422.28 156.05,422.16 158.36,422.04 160.67,421.92 162.98,421.80 165.29,421.68 167.61,421.56 169.92,421.44 172.23,421.32 174.54,421.19 176.85,421.06 179.16,420.93 181.47,420.80 183.78,420.65 186.09,420.50 188.40,420.34 190.71,420.17 193.02,419.99 195.33,419.79 197.64,419.58 199.95,419.36 202.26,419.15 204.58,418.94 206.89,418.74 209.20,418.55 211.51,418.37 213.82,418.21 216.13,418.06 218.44,417.92 220.75,417.78 223.06,417.65 225.37,417.52 227.68,417.40 229.99,417.28 232.30,417.16 234.61,417.05 236.92,416.93 239.23,416.82 241.55,416.71 243.86,416.59 246.17,416.48 248.48,416.37 250.79,416.26 253.10,416.15 255.41,416.04 257.72,415.93 260.03,415.82 262.34,415.72 264.65,415.61 266.50,415.52" fill="none" stroke="#1a2cf0" stroke-width="1.6" stroke-dasharray="4.6 4.6"/>
<polyline points="35.90,429.98 36.36,429.94 36.82,429.91 37.29,429.87 37.75,429.83 38.21,429.79 38.67,429.74 39.13,429.70 39.60,429.66 40.06,429.62 40.52,429.58 40.98,429.54 41.45,429.49 41.91,429.45 42.37,429.41 42.83,429.36 43.29,429.32 43.76,429.27 44.22,429.23 44.68,429.18 45.14,429.13 45.60,429.09 46.07,429.04 46.53,428.99 46.99,428.94 47.45,428.89 47.92,428.84 48.38,428.79 48.84,428.74 49.30,428.69 49.76,428.64 50.23,428.58 50.69,428.53 51.15,428.47 51.61,428.42 52.07,428.36 52.54,428.30 53.00,428.25 53.46,428.19 53.92,428.13 54.38,428.07 54.85,428.01 55.31,427.94 55.77,427.88 56.23,427.81 56.70,427.75 57.16,427.68 57.62,427.61 58.08,427.54 58.54,427.47 59.01,427.40 59.47,427.33 59.93,427.25 60.39,427.18 60.85,427.10 61.32,427.02 61.78,426.94 62.24,426.86 62.70,426.78 63.17,426.69 63.63,426.60 64.09,426.51 64.55,426.42 65.01,426.33 65.48,426.23 65.94,426.14 66.40,426.04 66.86,425.93 67.32,425.83 67.79,425.72 68.25,425.61 68.71,425.50 69.17,425.38 69.64,425.26 70.10,425.14 70.56,425.01 71.02,424.89 71.48,424.75 71.95,424.62 72.41,424.48 72.87,424.33 73.33,424.18 73.79,424.03 74.26,423.87 74.72,423.70 75.18,423.54 75.64,423.36 76.10,423.18 76.57,422.99 77.03,422.80 77.49,422.60 77.95,422.39 78.42,422.18 78.88,421.96 79.34,421.73 79.80,421.49 80.26,421.24 80.73,420.98 81.19,420.71 81.65,420.42 82.11,420.13 82.57,419.83 83.04,419.51 83.50,419.17 83.96,418.82 84.42,418.45 84.89,418.07 85.35,417.66 85.81,417.24 86.27,416.79 86.73,416.31 87.20,415.81 87.66,415.28 88.12,414.72 88.58,414.12 89.04,413.48 89.51,412.80 89.97,412.07 90.43,411.28 90.89,410.44 91.35,409.54 91.82,408.57 92.28,407.51 92.74,406.38 93.20,405.14 93.67,403.81 94.13,402.36 94.59,400.80 95.05,399.09 95.51,397.25 95.98,395.25 96.44,393.07 96.90,390.72 97.36,388.18 97.82,385.43 98.29,382.46 98.75,379.27 99.21,375.84 99.67,372.16 100.14,368.22 100.60,364.02 101.06,359.55 101.52,354.82 101.98,349.82 102.45,344.56 102.91,339.06 103.37,333.34 103.83,327.44 104.29,321.38 104.76,315.22 105.22,309.03 105.68,302.90 106.14,296.92 106.61,291.19 107.07,285.86 107.53,281.04 107.99,276.87 108.45,273.49 108.92,270.99 109.38,269.47 109.84,268.98 110.30,269.53 110.76,271.10 111.23,273.63 111.69,277.03 112.15,281.17 112.61,285.94 113.07,291.19 113.54,296.80 114.00,302.65 114.46,308.62 114.92,314.63 115.39,320.60 115.85,326.46 116.31,332.16 116.77,337.67 117.23,342.96 117.70,348.01 118.16,352.80 118.62,357.33 119.08,361.60 119.54,365.61 120.01,369.36 120.47,372.86 120.93,376.12 121.39,379.15 121.86,381.95 122.32,384.55 122.78,386.94 123.24,389.15 123.70,391.18 124.17,393.05 124.63,394.77 125.09,396.35 125.55,397.79 126.01,399.13 126.48,400.35 126.94,401.47 127.40,402.51 127.86,403.46 128.32,404.34 128.79,405.15 129.25,405.89 129.71,406.59 130.17,407.23 130.64,407.82 131.10,408.38 131.56,408.89 132.02,409.37 132.48,409.82 132.95,410.24 133.41,410.64 133.87,411.01 134.33,411.36 134.79,411.69 135.26,411.99 135.72,412.28 136.18,412.56 136.64,412.82 137.11,413.06 137.57,413.29 138.03,413.51 138.49,413.72 138.95,413.91 139.42,414.10 139.88,414.27 140.34,414.44 140.80,414.59 141.26,414.74 141.73,414.88 142.19,415.01 142.65,415.14 143.11,415.26 143.57,415.37 144.04,415.47 144.50,415.57 144.96,415.66 145.42,415.75 145.89,415.83 146.35,415.91 146.81,415.98 147.27,416.05 147.73,416.11 148.20,416.16 148.66,416.22 149.12,416.27 149.58,416.31 150.04,416.35 150.51,416.39 150.97,416.42 151.43,416.45 151.89,416.47 152.36,416.50 152.82,416.51 153.28,416.53 153.74,416.54 154.20,416.55 154.67,416.56 155.13,416.56 155.59,416.56 156.05,416.55 156.51,416.54 156.98,416.53 157.44,416.52 157.90,416.50 158.36,416.48 158.83,416.46 159.29,416.43 159.75,416.40 160.21,416.37 160.67,416.33 161.14,416.29 161.60,416.25 162.06,416.20 162.52,416.15 162.98,416.10 163.45,416.04 163.91,415.98 164.37,415.91 164.83,415.84 165.29,415.77 165.76,415.69 166.22,415.60 166.68,415.51 167.14,415.42 167.61,415.32 168.07,415.21 168.53,415.10 168.99,414.98 169.45,414.85 169.92,414.72 170.38,414.58 170.84,414.43 171.30,414.28 171.76,414.11 172.23,413.94 172.69,413.76 173.15,413.56 173.61,413.36 174.08,413.14 174.54,412.91 175.00,412.67 175.46,412.42 175.92,412.15 176.39,411.87 176.85,411.57 177.31,411.26 177.77,410.93 178.23,410.58 178.70,410.22 179.16,409.83 179.62,409.43 180.08,409.01 180.54,408.56 181.01,408.10 181.47,407.61 181.93,407.10 182.39,406.57 182.86,406.01 183.32,405.43 183.78,404.82 184.24,404.19 184.70,403.53 185.17,402.85 185.63,402.14 186.09,401.40 186.55,400.64 187.01,399.85 187.48,399.04 187.94,398.20 188.40,397.34 188.86,396.45 189.33,395.54 189.79,394.62 190.25,393.67 190.71,392.71 191.17,391.73 191.64,390.75 192.10,389.75 192.56,388.76 193.02,387.77 193.48,386.78 193.95,385.81 194.41,384.86 194.87,383.94 195.33,383.04 195.79,382.19 196.26,381.39 196.72,380.64 197.18,379.96 197.64,379.35 198.11,378.81 198.57,378.37 199.03,378.01 199.49,377.74 199.95,377.58 200.42,377.51 200.88,377.54 201.34,377.68 201.80,377.90 202.26,378.23 202.73,378.64 203.19,379.13 203.65,379.70 204.11,380.34 204.58,381.04 205.04,381.80 205.50,382.60 205.96,383.45 206.42,384.32 206.89,385.22 207.35,386.14 207.81,387.07 208.27,388.00 208.73,388.94 209.20,389.88 209.66,390.80 210.12,391.72 210.58,392.63 211.05,393.52 211.51,394.39 211.97,395.24 212.43,396.07 212.89,396.88 213.36,397.67 213.82,398.43 214.28,399.16 214.74,399.88 215.20,400.56 215.67,401.22 216.13,401.86 216.59,402.47 217.05,403.06 217.51,403.62 217.98,404.16 218.44,404.67 218.90,405.16 219.36,405.63 219.83,406.08 220.29,406.51 220.75,406.91 221.21,407.30 221.67,407.66 222.14,408.01 222.60,408.34 223.06,408.66 223.52,408.95 223.98,409.24 224.45,409.50 224.91,409.76 225.37,409.99 225.83,410.22 226.30,410.43 226.76,410.64 227.22,410.83 227.68,411.01 228.14,411.18 228.61,411.34 229.07,411.50 229.53,411.64 229.99,411.78 230.45,411.91 230.92,412.03 231.38,412.14 231.84,412.25 232.30,412.36 232.76,412.46 233.23,412.55 233.69,412.64 234.15,412.72 234.61,412.80 235.08,412.88 235.54,412.95 236.00,413.02 236.46,413.08 236.92,413.14 237.39,413.20 237.85,413.26 238.31,413.31 238.77,413.36 239.23,413.41 239.70,413.45 240.16,413.49 240.62,413.54 241.08,413.57 241.55,413.61 242.01,413.65 242.47,413.68 242.93,413.71 243.39,413.74 243.86,413.77 244.32,413.80 244.78,413.83 245.24,413.85 245.70,413.88 246.17,413.90 246.63,413.92 247.09,413.94 247.55,413.96 248.02,413.98 248.48,413.99 248.94,414.01 249.40,414.02 249.86,414.04 250.33,414.05 250.79,414.06 251.25,414.08 251.71,414.09 252.17,414.10 252.64,414.11 253.10,414.11 253.56,414.12 254.02,414.13 254.48,414.14 254.95,414.14 255.41,414.15 255.87,414.15 256.33,414.16 256.80,414.16 257.26,414.16 257.72,414.17 258.18,414.17 258.64,414.17 259.11,414.17 259.57,414.17 260.03,414.17 260.49,414.17 260.95,414.17 261.42,414.17 261.88,414.17 262.34,414.17 262.80,414.17 263.27,414.16 263.73,414.16 264.19,414.16 264.65,414.15 265.11,414.15 265.58,414.15 266.04,414.14 266.50,414.14" fill="none" stroke="#ee2b2b" stroke-width="1.2"/>
<rect x="28.3" y="248.6" width="246.20" height="201.60" fill="none" stroke="#555" stroke-width="1.4"/>
<line x1="36.24" y1="450.2" x2="36.24" y2="447.2" stroke="#555" stroke-width="1"/>
<text x="36.24" y="462.7" font-size="10.5" text-anchor="middle">450</text>
<line x1="52.13" y1="450.2" x2="52.13" y2="448.59999999999997" stroke="#555" stroke-width="1"/>
<line x1="68.01" y1="450.2" x2="68.01" y2="447.2" stroke="#555" stroke-width="1"/>
<text x="68.01" y="462.7" font-size="10.5" text-anchor="middle">452</text>
<line x1="83.89" y1="450.2" x2="83.89" y2="448.59999999999997" stroke="#555" stroke-width="1"/>
<line x1="99.78" y1="450.2" x2="99.78" y2="447.2" stroke="#555" stroke-width="1"/>
<text x="99.78" y="462.7" font-size="10.5" text-anchor="middle">454</text>
<line x1="115.66" y1="450.2" x2="115.66" y2="448.59999999999997" stroke="#555" stroke-width="1"/>
<line x1="131.55" y1="450.2" x2="131.55" y2="447.2" stroke="#555" stroke-width="1"/>
<text x="131.55" y="462.7" font-size="10.5" text-anchor="middle">456</text>
<line x1="147.43" y1="450.2" x2="147.43" y2="448.59999999999997" stroke="#555" stroke-width="1"/>
<line x1="163.31" y1="450.2" x2="163.31" y2="447.2" stroke="#555" stroke-width="1"/>
<text x="163.31" y="462.7" font-size="10.5" text-anchor="middle">458</text>
<line x1="179.20" y1="450.2" x2="179.20" y2="448.59999999999997" stroke="#555" stroke-width="1"/>
<line x1="195.08" y1="450.2" x2="195.08" y2="447.2" stroke="#555" stroke-width="1"/>
<text x="195.08" y="462.7" font-size="10.5" text-anchor="middle">460</text>
<line x1="210.96" y1="450.2" x2="210.96" y2="448.59999999999997" stroke="#555" stroke-width="1"/>
<line x1="226.85" y1="450.2" x2="226.85" y2="447.2" stroke="#555" stroke-width="1"/>
<text x="226.85" y="462.7" font-size="10.5" text-anchor="middle">462</text>
<line x1="242.73" y1="450.2" x2="242.73" y2="448.59999999999997" stroke="#555" stroke-width="1"/>
<line x1="258.62" y1="450.2" x2="258.62" y2="447.2" stroke="#555" stroke-width="1"/>
<text x="258.62" y="462.7" font-size="10.5" text-anchor="middle">464</text>
<line x1="274.50" y1="450.2" x2="274.50" y2="448.59999999999997" stroke="#555" stroke-width="1"/>
<polygon points="302.30,428.56 302.76,428.54 303.22,428.51 303.68,428.48 304.14,428.46 304.60,428.43 305.06,428.40 305.52,428.37 305.98,428.35 306.44,428.32 306.90,428.29 307.36,428.26 307.82,428.24 308.28,428.21 308.74,428.18 309.20,428.15 309.66,428.12 310.12,428.09 310.58,428.06 311.04,428.03 311.50,428.00 311.96,427.97 312.42,427.94 312.88,427.91 313.34,427.88 313.80,427.85 314.26,427.82 314.72,427.79 315.18,427.76 315.64,427.73 316.10,427.70 316.56,427.67 317.02,427.63 317.48,427.60 317.94,427.57 318.40,427.53 318.86,427.50 319.32,427.47 319.78,427.43 320.24,427.40 320.70,427.36 321.16,427.33 321.62,427.29 322.08,427.26 322.54,427.22 323.00,427.19 323.46,427.15 323.92,427.11 324.38,427.07 324.84,427.04 325.30,427.00 325.76,426.96 326.22,426.92 326.68,426.88 327.14,426.84 327.60,426.80 328.06,426.76 328.52,426.71 328.98,426.67 329.44,426.63 329.90,426.58 330.36,426.54 330.82,426.49 331.27,426.45 331.73,426.40 332.19,426.36 332.65,426.31 333.11,426.26 333.57,426.21 334.03,426.16 334.49,426.11 334.95,426.06 335.41,426.01 335.87,425.95 336.33,425.90 336.79,425.84 337.25,425.79 337.71,425.73 338.17,425.67 338.63,425.61 339.09,425.55 339.55,425.49 340.01,425.42 340.47,425.36 340.93,425.29 341.39,425.22 341.85,425.15 342.31,425.08 342.77,425.01 343.23,424.94 343.69,424.86 344.15,424.78 344.61,424.71 345.07,424.62 345.53,424.54 345.99,424.45 346.45,424.37 346.91,424.28 347.37,424.18 347.83,424.09 348.29,423.99 348.75,423.89 349.21,423.79 349.67,423.68 350.13,423.57 350.59,423.45 351.05,423.34 351.51,423.22 351.97,423.09 352.43,422.96 352.89,422.83 353.35,422.69 353.81,422.55 354.27,422.40 354.73,422.25 355.19,422.09 355.65,421.92 356.11,421.75 356.57,421.57 357.03,421.38 357.49,421.19 357.95,420.99 358.41,420.78 358.87,420.56 359.33,420.33 359.79,420.09 360.25,419.84 360.71,419.58 361.17,419.31 361.63,419.02 362.09,418.71 362.55,418.40 363.01,418.06 363.47,417.71 363.93,417.34 364.39,416.95 364.85,416.53 365.31,416.09 365.77,415.62 366.23,415.12 366.69,414.59 367.15,414.02 367.61,413.41 368.07,412.75 368.53,412.04 368.99,411.28 369.45,410.44 369.91,409.54 370.37,408.55 370.83,407.47 371.29,406.29 371.75,404.98 372.21,403.55 372.67,401.97 373.13,400.22 373.59,398.29 374.05,396.15 374.51,393.79 374.97,391.19 375.43,388.32 375.89,385.15 376.35,381.68 376.81,377.88 377.27,373.72 377.73,369.19 378.19,364.28 378.65,358.98 379.11,353.27 379.57,347.18 380.03,340.70 380.49,333.86 380.95,326.70 381.41,319.28 381.87,311.69 382.33,304.04 382.79,296.47 383.25,289.15 383.71,282.28 384.17,276.11 384.63,270.86 385.09,266.76 385.55,264.02 386.01,262.76 386.47,263.05 386.93,264.88 387.39,268.15 387.85,272.69 388.31,278.29 388.76,284.72 389.22,291.74 389.68,299.12 390.14,306.68 390.60,314.26 391.06,321.73 391.52,328.98 391.98,335.95 392.44,342.59 392.90,348.85 393.36,354.73 393.82,360.21 394.28,365.29 394.74,369.99 395.20,374.30 395.66,378.26 396.12,381.87 396.58,385.17 397.04,388.15 397.50,390.86 397.96,393.32 398.42,395.53 398.88,397.54 399.34,399.34 399.80,400.98 400.26,402.45 400.72,403.79 401.18,404.99 401.64,406.09 402.10,407.09 402.56,408.00 403.02,408.83 403.48,409.59 403.94,410.29 404.40,410.94 404.86,411.53 405.32,412.08 405.78,412.60 406.24,413.07 406.70,413.52 407.16,413.94 407.62,414.33 408.08,414.69 408.54,415.04 409.00,415.36 409.46,415.66 409.92,415.95 410.38,416.22 410.84,416.48 411.30,416.72 411.76,416.95 412.22,417.17 412.68,417.37 413.14,417.57 413.60,417.75 414.06,417.93 414.52,418.10 414.98,418.26 415.44,418.41 415.90,418.55 416.36,418.68 416.82,418.81 417.28,418.94 417.74,419.05 418.20,419.17 418.66,419.27 419.12,419.37 419.58,419.47 420.04,419.56 420.50,419.65 420.96,419.73 421.42,419.81 421.88,419.88 422.34,419.95 422.80,420.02 423.26,420.08 423.72,420.14 424.18,420.20 424.64,420.25 425.10,420.30 425.56,420.35 426.02,420.40 426.48,420.44 426.94,420.48 427.40,420.51 427.86,420.55 428.32,420.58 428.78,420.61 429.24,420.63 429.70,420.66 430.16,420.68 430.62,420.70 431.08,420.72 431.54,420.74 432.00,420.76 432.46,420.77 432.92,420.78 433.38,420.80 433.84,420.81 434.30,420.82 434.76,420.83 435.22,420.84 435.68,420.85 436.14,420.86 436.60,420.87 437.06,420.88 437.52,420.88 437.98,420.89 438.44,420.90 438.90,420.90 439.36,420.91 439.82,420.92 440.28,420.92 440.74,420.93 441.20,420.93 441.66,420.94 442.12,420.94 442.58,420.94 443.04,420.95 443.50,420.95 443.96,420.95 444.42,420.96 444.88,420.96 445.34,420.96 445.79,420.96 446.25,420.96 446.71,420.96 447.17,420.96 447.63,420.96 448.09,420.96 448.55,420.96 449.01,420.96 449.47,420.96 449.93,420.95 450.39,420.95 450.85,420.95 451.31,420.94 451.77,420.94 452.23,420.94 452.69,420.93 453.15,420.93 453.61,420.93 454.07,420.92 454.53,420.92 454.99,420.91 455.45,420.90 455.91,420.90 456.37,420.89 456.83,420.89 457.29,420.88 457.75,420.87 458.21,420.87 458.67,420.86 459.13,420.85 459.59,420.84 460.05,420.84 460.51,420.83 460.97,420.82 461.43,420.81 461.89,420.80 462.35,420.80 462.81,420.79 463.27,420.78 463.73,420.77 464.19,420.76 464.65,420.75 465.11,420.74 465.57,420.73 466.03,420.72 466.49,420.71 466.95,420.70 467.41,420.69 467.87,420.68 468.33,420.67 468.79,420.66 469.25,420.65 469.71,420.64 470.17,420.62 470.63,420.61 471.09,420.60 471.55,420.59 472.01,420.58 472.47,420.57 472.93,420.56 473.39,420.54 473.85,420.53 474.31,420.52 474.77,420.51 475.23,420.50 475.69,420.48 476.15,420.47 476.61,420.46 477.07,420.45 477.53,420.43 477.99,420.42 478.45,420.41 478.91,420.39 479.37,420.38 479.83,420.37 480.29,420.35 480.75,420.34 481.21,420.33 481.67,420.31 482.13,420.30 482.59,420.29 483.05,420.27 483.51,420.26 483.97,420.25 484.43,420.23 484.89,420.22 485.35,420.20 485.81,420.19 486.27,420.18 486.73,420.16 487.19,420.15 487.65,420.13 488.11,420.12 488.57,420.10 489.03,420.09 489.49,420.07 489.95,420.06 490.41,420.05 490.87,420.03 491.33,420.02 491.79,420.00 492.25,419.99 492.71,419.97 493.17,419.96 493.63,419.94 494.09,419.93 494.55,419.91 495.01,419.90 495.47,419.88 495.93,419.87 496.39,419.85 496.85,419.84 497.31,419.82 497.77,419.80 498.23,419.79 498.69,419.77 499.15,419.76 499.61,419.74 500.07,419.73 500.53,419.71 500.99,419.70 501.45,419.68 501.91,419.66 502.37,419.65 502.83,419.63 503.28,419.62 503.74,419.60 504.20,419.59 504.66,419.57 505.12,419.55 505.58,419.54 506.04,419.52 506.50,419.51 506.96,419.49 507.42,419.47 507.88,419.46 508.34,419.44 508.80,419.43 509.26,419.41 509.72,419.39 510.18,419.38 510.64,419.36 511.10,419.34 511.56,419.33 512.02,419.31 512.48,419.30 512.94,419.28 513.40,419.26 513.86,419.25 514.32,419.23 514.78,419.21 515.24,419.20 515.70,419.18 516.16,419.16 516.62,419.15 517.08,419.13 517.54,419.11 518.00,419.10 518.46,419.08 518.92,419.06 519.38,419.05 519.84,419.03 520.30,419.01 520.76,419.00 521.22,418.98 521.68,418.96 522.14,418.95 522.60,418.93 523.06,418.91 523.52,418.90 523.98,418.88 524.44,418.86 524.90,418.85 525.36,418.83 525.82,418.81 526.28,418.79 526.74,418.78 527.20,418.76 527.66,418.74 528.12,418.73 528.58,418.71 529.04,418.69 529.50,418.68 529.96,418.66 530.42,418.64 530.88,418.62 531.34,418.61 531.80,418.59 531.80,418.83 531.34,418.84 530.88,418.86 530.42,418.88 529.96,418.90 529.50,418.92 529.04,418.94 528.58,418.96 528.12,418.98 527.66,418.99 527.20,419.01 526.74,419.03 526.28,419.05 525.82,419.07 525.36,419.09 524.90,419.11 524.44,419.12 523.98,419.14 523.52,419.16 523.06,419.18 522.60,419.20 522.14,419.22 521.68,419.24 521.22,419.25 520.76,419.27 520.30,419.29 519.84,419.31 519.38,419.33 518.92,419.35 518.46,419.37 518.00,419.39 517.54,419.40 517.08,419.42 516.62,419.44 516.16,419.46 515.70,419.48 515.24,419.50 514.78,419.52 514.32,419.53 513.86,419.55 513.40,419.57 512.94,419.59 512.48,419.61 512.02,419.63 511.56,419.65 511.10,419.66 510.64,419.68 510.18,419.70 509.72,419.72 509.26,419.74 508.80,419.76 508.34,419.78 507.88,419.80 507.42,419.81 506.96,419.83 506.50,419.85 506.04,419.87 505.58,419.89 505.12,419.91 504.66,419.93 504.20,419.94 503.74,419.96 503.28,419.98 502.83,420.00 502.37,420.02 501.91,420.04 501.45,420.06 500.99,420.08 500.53,420.09 500.07,420.11 499.61,420.13 499.15,420.15 498.69,420.17 498.23,420.19 497.77,420.21 497.31,420.22 496.85,420.24 496.39,420.26 495.93,420.28 495.47,420.30 495.01,420.32 494.55,420.34 494.09,420.36 493.63,420.37 493.17,420.39 492.71,420.41 492.25,420.43 491.79,420.45 491.33,420.47 490.87,420.49 490.41,420.50 489.95,420.52 489.49,420.54 489.03,420.56 488.57,420.58 488.11,420.60 487.65,420.62 487.19,420.64 486.73,420.65 486.27,420.67 485.81,420.69 485.35,420.71 484.89,420.73 484.43,420.75 483.97,420.77 483.51,420.79 483.05,420.80 482.59,420.82 482.13,420.84 481.67,420.86 481.21,420.88 480.75,420.90 480.29,420.92 479.83,420.94 479.37,420.95 478.91,420.97 478.45,420.99 477.99,421.01 477.53,421.03 477.07,421.05 476.61,421.07 476.15,421.09 475.69,421.11 475.23,421.12 474.77,421.14 474.31,421.16 473.85,421.18 473.39,421.20 472.93,421.22 472.47,421.24 472.01,421.26 471.55,421.27 471.09,421.29 470.63,421.31 470.17,421.33 469.71,421.35 469.25,421.37 468.79,421.39 468.33,421.41 467.87,421.43 467.41,421.44 466.95,421.46 466.49,421.48 466.03,421.50 465.57,421.52 465.11,421.54 464.65,421.56 464.19,421.58 463.73,421.60 463.27,421.61 462.81,421.63 462.35,421.65 461.89,421.67 461.43,421.69 460.97,421.71 460.51,421.73 460.05,421.75 459.59,421.77 459.13,421.79 458.67,421.81 458.21,421.82 457.75,421.84 457.29,421.86 456.83,421.88 456.37,421.90 455.91,421.92 455.45,421.94 454.99,421.96 454.53,421.98 454.07,422.00 453.61,422.02 453.15,422.04 452.69,422.06 452.23,422.08 451.77,422.09 451.31,422.11 450.85,422.13 450.39,422.15 449.93,422.17 449.47,422.19 449.01,422.21 448.55,422.23 448.09,422.25 447.63,422.27 447.17,422.29 446.71,422.31 446.25,422.33 445.79,422.35 445.34,422.37 444.88,422.39 444.42,422.41 443.96,422.44 443.50,422.46 443.04,422.48 442.58,422.50 442.12,422.52 441.66,422.54 441.20,422.56 440.74,422.59 440.28,422.61 439.82,422.63 439.36,422.66 438.90,422.68 438.44,422.70 437.98,422.73 437.52,422.75 437.06,422.78 436.60,422.81 436.14,422.83 435.68,422.86 435.22,422.89 434.76,422.92 434.30,422.94 433.84,422.97 433.38,423.00 432.92,423.03 432.46,423.06 432.00,423.09 431.54,423.13 431.08,423.16 430.62,423.19 430.16,423.22 429.70,423.25 429.24,423.28 428.78,423.31 428.32,423.33 427.86,423.36 427.40,423.39 426.94,423.42 426.48,423.44 426.02,423.47 425.56,423.50 425.10,423.52 424.64,423.55 424.18,423.57 423.72,423.59 423.26,423.62 422.80,423.64 422.34,423.66 421.88,423.69 421.42,423.71 420.96,423.73 420.50,423.75 420.04,423.77 419.58,423.79 419.12,423.82 418.66,423.84 418.20,423.86 417.74,423.88 417.28,423.90 416.82,423.92 416.36,423.94 415.90,423.96 415.44,423.98 414.98,424.00 414.52,424.02 414.06,424.04 413.60,424.06 413.14,424.08 412.68,424.10 412.22,424.12 411.76,424.14 411.30,424.16 410.84,424.18 410.38,424.20 409.92,424.23 409.46,424.25 409.00,424.27 408.54,424.29 408.08,424.31 407.62,424.33 407.16,424.35 406.70,424.37 406.24,424.39 405.78,424.41 405.32,424.43 404.86,424.45 404.40,424.47 403.94,424.49 403.48,424.51 403.02,424.53 402.56,424.55 402.10,424.57 401.64,424.59 401.18,424.61 400.72,424.64 400.26,424.66 399.80,424.68 399.34,424.70 398.88,424.72 398.42,424.74 397.96,424.77 397.50,424.79 397.04,424.81 396.58,424.84 396.12,424.86 395.66,424.88 395.20,424.91 394.74,424.93 394.28,424.96 393.82,424.98 393.36,425.01 392.90,425.04 392.44,425.06 391.98,425.09 391.52,425.12 391.06,425.15 390.60,425.18 390.14,425.21 389.68,425.25 389.22,425.28 388.76,425.32 388.31,425.35 387.85,425.39 387.39,425.42 386.93,425.46 386.47,425.50 386.01,425.53 385.55,425.57 385.09,425.61 384.63,425.64 384.17,425.68 383.71,425.71 383.25,425.75 382.79,425.78 382.33,425.82 381.87,425.85 381.41,425.88 380.95,425.91 380.49,425.94 380.03,425.97 379.57,426.00 379.11,426.02 378.65,426.05 378.19,426.08 377.73,426.10 377.27,426.13 376.81,426.15 376.35,426.17 375.89,426.20 375.43,426.22 374.97,426.24 374.51,426.27 374.05,426.29 373.59,426.31 373.13,426.33 372.67,426.35 372.21,426.38 371.75,426.40 371.29,426.42 370.83,426.44 370.37,426.46 369.91,426.48 369.45,426.50 368.99,426.52 368.53,426.54 368.07,426.56 367.61,426.58 367.15,426.60 366.69,426.62 366.23,426.64 365.77,426.66 365.31,426.68 364.85,426.70 364.39,426.72 363.93,426.74 363.47,426.76 363.01,426.78 362.55,426.80 362.09,426.82 361.63,426.84 361.17,426.86 360.71,426.88 360.25,426.90 359.79,426.92 359.33,426.94 358.87,426.95 358.41,426.97 357.95,426.99 357.49,427.01 357.03,427.03 356.57,427.05 356.11,427.07 355.65,427.09 355.19,427.11 354.73,427.13 354.27,427.15 353.81,427.17 353.35,427.19 352.89,427.20 352.43,427.22 351.97,427.24 351.51,427.26 351.05,427.28 350.59,427.30 350.13,427.32 349.67,427.34 349.21,427.36 348.75,427.38 348.29,427.40 347.83,427.41 347.37,427.43 346.91,427.45 346.45,427.47 345.99,427.49 345.53,427.51 345.07,427.53 344.61,427.55 344.15,427.57 343.69,427.58 343.23,427.60 342.77,427.62 342.31,427.64 341.85,427.66 341.39,427.68 340.93,427.70 340.47,427.72 340.01,427.74 339.55,427.75 339.09,427.77 338.63,427.79 338.17,427.81 337.71,427.83 337.25,427.85 336.79,427.87 336.33,427.89 335.87,427.91 335.41,427.92 334.95,427.94 334.49,427.96 334.03,427.98 333.57,428.00 333.11,428.02 332.65,428.04 332.19,428.06 331.73,428.07 331.27,428.09 330.82,428.11 330.36,428.13 329.90,428.15 329.44,428.17 328.98,428.19 328.52,428.21 328.06,428.22 327.60,428.24 327.14,428.26 326.68,428.28 326.22,428.30 325.76,428.32 325.30,428.34 324.84,428.36 324.38,428.37 323.92,428.39 323.46,428.41 323.00,428.43 322.54,428.45 322.08,428.47 321.62,428.49 321.16,428.51 320.70,428.52 320.24,428.54 319.78,428.56 319.32,428.58 318.86,428.60 318.40,428.62 317.94,428.64 317.48,428.66 317.02,428.67 316.56,428.69 316.10,428.71 315.64,428.73 315.18,428.75 314.72,428.77 314.26,428.79 313.80,428.80 313.34,428.82 312.88,428.84 312.42,428.86 311.96,428.88 311.50,428.90 311.04,428.92 310.58,428.94 310.12,428.95 309.66,428.97 309.20,428.99 308.74,429.01 308.28,429.03 307.82,429.05 307.36,429.07 306.90,429.08 306.44,429.10 305.98,429.12 305.52,429.14 305.06,429.16 304.60,429.18 304.14,429.20 303.68,429.22 303.22,429.23 302.76,429.25 302.30,429.27" fill="url(#dotsP)" stroke="none" fill-opacity="0.85"/>
<polygon points="302.30,429.08 302.76,429.06 303.22,429.04 303.68,429.02 304.14,429.00 304.60,428.98 305.06,428.96 305.52,428.94 305.98,428.92 306.44,428.90 306.90,428.88 307.36,428.86 307.82,428.84 308.28,428.82 308.74,428.80 309.20,428.78 309.66,428.76 310.12,428.74 310.58,428.72 311.04,428.70 311.50,428.68 311.96,428.66 312.42,428.64 312.88,428.62 313.34,428.60 313.80,428.57 314.26,428.55 314.72,428.53 315.18,428.51 315.64,428.49 316.10,428.47 316.56,428.45 317.02,428.43 317.48,428.41 317.94,428.39 318.40,428.37 318.86,428.35 319.32,428.33 319.78,428.31 320.24,428.29 320.70,428.26 321.16,428.24 321.62,428.22 322.08,428.20 322.54,428.18 323.00,428.16 323.46,428.14 323.92,428.12 324.38,428.10 324.84,428.08 325.30,428.05 325.76,428.03 326.22,428.01 326.68,427.99 327.14,427.97 327.60,427.95 328.06,427.93 328.52,427.91 328.98,427.88 329.44,427.86 329.90,427.84 330.36,427.82 330.82,427.80 331.27,427.78 331.73,427.75 332.19,427.73 332.65,427.71 333.11,427.69 333.57,427.67 334.03,427.65 334.49,427.62 334.95,427.60 335.41,427.58 335.87,427.56 336.33,427.54 336.79,427.51 337.25,427.49 337.71,427.47 338.17,427.45 338.63,427.42 339.09,427.40 339.55,427.38 340.01,427.36 340.47,427.33 340.93,427.31 341.39,427.29 341.85,427.26 342.31,427.24 342.77,427.22 343.23,427.20 343.69,427.17 344.15,427.15 344.61,427.13 345.07,427.10 345.53,427.08 345.99,427.06 346.45,427.03 346.91,427.01 347.37,426.98 347.83,426.96 348.29,426.94 348.75,426.91 349.21,426.89 349.67,426.86 350.13,426.84 350.59,426.82 351.05,426.79 351.51,426.77 351.97,426.74 352.43,426.72 352.89,426.69 353.35,426.67 353.81,426.64 354.27,426.62 354.73,426.59 355.19,426.56 355.65,426.54 356.11,426.51 356.57,426.49 357.03,426.46 357.49,426.43 357.95,426.41 358.41,426.38 358.87,426.35 359.33,426.33 359.79,426.30 360.25,426.27 360.71,426.25 361.17,426.22 361.63,426.19 362.09,426.16 362.55,426.13 363.01,426.11 363.47,426.08 363.93,426.05 364.39,426.02 364.85,425.99 365.31,425.96 365.77,425.93 366.23,425.90 366.69,425.87 367.15,425.84 367.61,425.81 368.07,425.78 368.53,425.74 368.99,425.71 369.45,425.68 369.91,425.65 370.37,425.62 370.83,425.58 371.29,425.55 371.75,425.51 372.21,425.48 372.67,425.44 373.13,425.41 373.59,425.37 374.05,425.33 374.51,425.30 374.97,425.26 375.43,425.22 375.89,425.18 376.35,425.14 376.81,425.10 377.27,425.06 377.73,425.02 378.19,424.97 378.65,424.93 379.11,424.88 379.57,424.83 380.03,424.78 380.49,424.73 380.95,424.68 381.41,424.63 381.87,424.58 382.33,424.52 382.79,424.46 383.25,424.41 383.71,424.35 384.17,424.28 384.63,424.22 385.09,424.16 385.55,424.09 386.01,424.03 386.47,423.96 386.93,423.89 387.39,423.82 387.85,423.75 388.31,423.68 388.76,423.61 389.22,423.54 389.68,423.47 390.14,423.40 390.60,423.33 391.06,423.26 391.52,423.18 391.98,423.11 392.44,423.04 392.90,422.96 393.36,422.88 393.82,422.81 394.28,422.73 394.74,422.65 395.20,422.57 395.66,422.49 396.12,422.40 396.58,422.32 397.04,422.23 397.50,422.14 397.96,422.04 398.42,421.95 398.88,421.85 399.34,421.75 399.80,421.65 400.26,421.54 400.72,421.43 401.18,421.31 401.64,421.20 402.10,421.07 402.56,420.95 403.02,420.81 403.48,420.68 403.94,420.54 404.40,420.39 404.86,420.23 405.32,420.07 405.78,419.91 406.24,419.73 406.70,419.55 407.16,419.36 407.62,419.16 408.08,418.95 408.54,418.72 409.00,418.49 409.46,418.25 409.92,417.99 410.38,417.71 410.84,417.42 411.30,417.11 411.76,416.78 412.22,416.42 412.68,416.05 413.14,415.64 413.60,415.20 414.06,414.72 414.52,414.20 414.98,413.64 415.44,413.02 415.90,412.35 416.36,411.60 416.82,410.79 417.28,409.88 417.74,408.89 418.20,407.79 418.66,406.57 419.12,405.23 419.58,403.74 420.04,402.10 420.50,400.29 420.96,398.30 421.42,396.12 421.88,393.74 422.34,391.14 422.80,388.31 423.26,385.25 423.72,381.95 424.18,378.41 424.64,374.64 425.10,370.63 425.56,366.41 426.02,362.00 426.48,357.43 426.94,352.73 427.40,347.98 427.86,343.23 428.32,338.58 428.78,334.14 429.24,330.02 429.70,326.35 430.16,323.27 430.62,320.90 431.08,319.34 431.54,318.67 432.00,318.91 432.46,320.06 432.92,322.05 433.38,324.80 433.84,328.18 434.30,332.08 434.76,336.35 435.22,340.87 435.68,345.54 436.14,350.24 436.60,354.92 437.06,359.49 437.52,363.93 437.98,368.18 438.44,372.22 438.90,376.04 439.36,379.62 439.82,382.97 440.28,386.08 440.74,388.96 441.20,391.60 441.66,394.03 442.12,396.25 442.58,398.27 443.04,400.10 443.50,401.77 443.96,403.27 444.42,404.63 444.88,405.86 445.34,406.96 445.79,407.96 446.25,408.85 446.71,409.66 447.17,410.39 447.63,411.05 448.09,411.65 448.55,412.20 449.01,412.69 449.47,413.15 449.93,413.56 450.39,413.94 450.85,414.29 451.31,414.62 451.77,414.92 452.23,415.20 452.69,415.45 453.15,415.70 453.61,415.92 454.07,416.13 454.53,416.33 454.99,416.52 455.45,416.69 455.91,416.86 456.37,417.01 456.83,417.16 457.29,417.30 457.75,417.43 458.21,417.55 458.67,417.67 459.13,417.78 459.59,417.89 460.05,417.99 460.51,418.08 460.97,418.17 461.43,418.25 461.89,418.33 462.35,418.41 462.81,418.48 463.27,418.55 463.73,418.61 464.19,418.67 464.65,418.73 465.11,418.79 465.57,418.84 466.03,418.89 466.49,418.94 466.95,418.98 467.41,419.02 467.87,419.06 468.33,419.10 468.79,419.14 469.25,419.17 469.71,419.21 470.17,419.24 470.63,419.26 471.09,419.29 471.55,419.32 472.01,419.34 472.47,419.36 472.93,419.39 473.39,419.41 473.85,419.43 474.31,419.44 474.77,419.46 475.23,419.48 475.69,419.49 476.15,419.50 476.61,419.52 477.07,419.53 477.53,419.54 477.99,419.55 478.45,419.56 478.91,419.57 479.37,419.58 479.83,419.58 480.29,419.59 480.75,419.59 481.21,419.60 481.67,419.60 482.13,419.61 482.59,419.61 483.05,419.61 483.51,419.61 483.97,419.62 484.43,419.62 484.89,419.62 485.35,419.62 485.81,419.62 486.27,419.62 486.73,419.61 487.19,419.61 487.65,419.61 488.11,419.61 488.57,419.60 489.03,419.60 489.49,419.60 489.95,419.59 490.41,419.59 490.87,419.58 491.33,419.58 491.79,419.57 492.25,419.57 492.71,419.56 493.17,419.56 493.63,419.55 494.09,419.54 494.55,419.54 495.01,419.53 495.47,419.52 495.93,419.51 496.39,419.51 496.85,419.50 497.31,419.49 497.77,419.48 498.23,419.47 498.69,419.46 499.15,419.45 499.61,419.44 500.07,419.43 500.53,419.43 500.99,419.42 501.45,419.41 501.91,419.39 502.37,419.38 502.83,419.37 503.28,419.36 503.74,419.35 504.20,419.34 504.66,419.33 505.12,419.32 505.58,419.31 506.04,419.30 506.50,419.28 506.96,419.27 507.42,419.26 507.88,419.25 508.34,419.24 508.80,419.22 509.26,419.21 509.72,419.20 510.18,419.19 510.64,419.17 511.10,419.16 511.56,419.15 512.02,419.14 512.48,419.12 512.94,419.11 513.40,419.10 513.86,419.08 514.32,419.07 514.78,419.06 515.24,419.04 515.70,419.03 516.16,419.01 516.62,419.00 517.08,418.99 517.54,418.97 518.00,418.96 518.46,418.94 518.92,418.93 519.38,418.92 519.84,418.90 520.30,418.89 520.76,418.87 521.22,418.86 521.68,418.84 522.14,418.83 522.60,418.81 523.06,418.80 523.52,418.78 523.98,418.77 524.44,418.75 524.90,418.74 525.36,418.72 525.82,418.71 526.28,418.69 526.74,418.68 527.20,418.66 527.66,418.65 528.12,418.63 528.58,418.62 529.04,418.60 529.50,418.59 529.96,418.57 530.42,418.56 530.88,418.54 531.34,418.52 531.80,418.51 531.80,418.83 531.34,418.84 530.88,418.86 530.42,418.88 529.96,418.90 529.50,418.92 529.04,418.94 528.58,418.96 528.12,418.98 527.66,418.99 527.20,419.01 526.74,419.03 526.28,419.05 525.82,419.07 525.36,419.09 524.90,419.11 524.44,419.12 523.98,419.14 523.52,419.16 523.06,419.18 522.60,419.20 522.14,419.22 521.68,419.24 521.22,419.25 520.76,419.27 520.30,419.29 519.84,419.31 519.38,419.33 518.92,419.35 518.46,419.37 518.00,419.39 517.54,419.40 517.08,419.42 516.62,419.44 516.16,419.46 515.70,419.48 515.24,419.50 514.78,419.52 514.32,419.53 513.86,419.55 513.40,419.57 512.94,419.59 512.48,419.61 512.02,419.63 511.56,419.65 511.10,419.66 510.64,419.68 510.18,419.70 509.72,419.72 509.26,419.74 508.80,419.76 508.34,419.78 507.88,419.80 507.42,419.81 506.96,419.83 506.50,419.85 506.04,419.87 505.58,419.89 505.12,419.91 504.66,419.93 504.20,419.94 503.74,419.96 503.28,419.98 502.83,420.00 502.37,420.02 501.91,420.04 501.45,420.06 500.99,420.08 500.53,420.09 500.07,420.11 499.61,420.13 499.15,420.15 498.69,420.17 498.23,420.19 497.77,420.21 497.31,420.22 496.85,420.24 496.39,420.26 495.93,420.28 495.47,420.30 495.01,420.32 494.55,420.34 494.09,420.36 493.63,420.37 493.17,420.39 492.71,420.41 492.25,420.43 491.79,420.45 491.33,420.47 490.87,420.49 490.41,420.50 489.95,420.52 489.49,420.54 489.03,420.56 488.57,420.58 488.11,420.60 487.65,420.62 487.19,420.64 486.73,420.65 486.27,420.67 485.81,420.69 485.35,420.71 484.89,420.73 484.43,420.75 483.97,420.77 483.51,420.79 483.05,420.80 482.59,420.82 482.13,420.84 481.67,420.86 481.21,420.88 480.75,420.90 480.29,420.92 479.83,420.94 479.37,420.95 478.91,420.97 478.45,420.99 477.99,421.01 477.53,421.03 477.07,421.05 476.61,421.07 476.15,421.09 475.69,421.11 475.23,421.12 474.77,421.14 474.31,421.16 473.85,421.18 473.39,421.20 472.93,421.22 472.47,421.24 472.01,421.26 471.55,421.27 471.09,421.29 470.63,421.31 470.17,421.33 469.71,421.35 469.25,421.37 468.79,421.39 468.33,421.41 467.87,421.43 467.41,421.44 466.95,421.46 466.49,421.48 466.03,421.50 465.57,421.52 465.11,421.54 464.65,421.56 464.19,421.58 463.73,421.60 463.27,421.61 462.81,421.63 462.35,421.65 461.89,421.67 461.43,421.69 460.97,421.71 460.51,421.73 460.05,421.75 459.59,421.77 459.13,421.79 458.67,421.81 458.21,421.82 457.75,421.84 457.29,421.86 456.83,421.88 456.37,421.90 455.91,421.92 455.45,421.94 454.99,421.96 454.53,421.98 454.07,422.00 453.61,422.02 453.15,422.04 452.69,422.06 452.23,422.08 451.77,422.09 451.31,422.11 450.85,422.13 450.39,422.15 449.93,422.17 449.47,422.19 449.01,422.21 448.55,422.23 448.09,422.25 447.63,422.27 447.17,422.29 446.71,422.31 446.25,422.33 445.79,422.35 445.34,422.37 444.88,422.39 444.42,422.41 443.96,422.44 443.50,422.46 443.04,422.48 442.58,422.50 442.12,422.52 441.66,422.54 441.20,422.56 440.74,422.59 440.28,422.61 439.82,422.63 439.36,422.66 438.90,422.68 438.44,422.70 437.98,422.73 437.52,422.75 437.06,422.78 436.60,422.81 436.14,422.83 435.68,422.86 435.22,422.89 434.76,422.92 434.30,422.94 433.84,422.97 433.38,423.00 432.92,423.03 432.46,423.06 432.00,423.09 431.54,423.13 431.08,423.16 430.62,423.19 430.16,423.22 429.70,423.25 429.24,423.28 428.78,423.31 428.32,423.33 427.86,423.36 427.40,423.39 426.94,423.42 426.48,423.44 426.02,423.47 425.56,423.50 425.10,423.52 424.64,423.55 424.18,423.57 423.72,423.59 423.26,423.62 422.80,423.64 422.34,423.66 421.88,423.69 421.42,423.71 420.96,423.73 420.50,423.75 420.04,423.77 419.58,423.79 419.12,423.82 418.66,423.84 418.20,423.86 417.74,423.88 417.28,423.90 416.82,423.92 416.36,423.94 415.90,423.96 415.44,423.98 414.98,424.00 414.52,424.02 414.06,424.04 413.60,424.06 413.14,424.08 412.68,424.10 412.22,424.12 411.76,424.14 411.30,424.16 410.84,424.18 410.38,424.20 409.92,424.23 409.46,424.25 409.00,424.27 408.54,424.29 408.08,424.31 407.62,424.33 407.16,424.35 406.70,424.37 406.24,424.39 405.78,424.41 405.32,424.43 404.86,424.45 404.40,424.47 403.94,424.49 403.48,424.51 403.02,424.53 402.56,424.55 402.10,424.57 401.64,424.59 401.18,424.61 400.72,424.64 400.26,424.66 399.80,424.68 399.34,424.70 398.88,424.72 398.42,424.74 397.96,424.77 397.50,424.79 397.04,424.81 396.58,424.84 396.12,424.86 395.66,424.88 395.20,424.91 394.74,424.93 394.28,424.96 393.82,424.98 393.36,425.01 392.90,425.04 392.44,425.06 391.98,425.09 391.52,425.12 391.06,425.15 390.60,425.18 390.14,425.21 389.68,425.25 389.22,425.28 388.76,425.32 388.31,425.35 387.85,425.39 387.39,425.42 386.93,425.46 386.47,425.50 386.01,425.53 385.55,425.57 385.09,425.61 384.63,425.64 384.17,425.68 383.71,425.71 383.25,425.75 382.79,425.78 382.33,425.82 381.87,425.85 381.41,425.88 380.95,425.91 380.49,425.94 380.03,425.97 379.57,426.00 379.11,426.02 378.65,426.05 378.19,426.08 377.73,426.10 377.27,426.13 376.81,426.15 376.35,426.17 375.89,426.20 375.43,426.22 374.97,426.24 374.51,426.27 374.05,426.29 373.59,426.31 373.13,426.33 372.67,426.35 372.21,426.38 371.75,426.40 371.29,426.42 370.83,426.44 370.37,426.46 369.91,426.48 369.45,426.50 368.99,426.52 368.53,426.54 368.07,426.56 367.61,426.58 367.15,426.60 366.69,426.62 366.23,426.64 365.77,426.66 365.31,426.68 364.85,426.70 364.39,426.72 363.93,426.74 363.47,426.76 363.01,426.78 362.55,426.80 362.09,426.82 361.63,426.84 361.17,426.86 360.71,426.88 360.25,426.90 359.79,426.92 359.33,426.94 358.87,426.95 358.41,426.97 357.95,426.99 357.49,427.01 357.03,427.03 356.57,427.05 356.11,427.07 355.65,427.09 355.19,427.11 354.73,427.13 354.27,427.15 353.81,427.17 353.35,427.19 352.89,427.20 352.43,427.22 351.97,427.24 351.51,427.26 351.05,427.28 350.59,427.30 350.13,427.32 349.67,427.34 349.21,427.36 348.75,427.38 348.29,427.40 347.83,427.41 347.37,427.43 346.91,427.45 346.45,427.47 345.99,427.49 345.53,427.51 345.07,427.53 344.61,427.55 344.15,427.57 343.69,427.58 343.23,427.60 342.77,427.62 342.31,427.64 341.85,427.66 341.39,427.68 340.93,427.70 340.47,427.72 340.01,427.74 339.55,427.75 339.09,427.77 338.63,427.79 338.17,427.81 337.71,427.83 337.25,427.85 336.79,427.87 336.33,427.89 335.87,427.91 335.41,427.92 334.95,427.94 334.49,427.96 334.03,427.98 333.57,428.00 333.11,428.02 332.65,428.04 332.19,428.06 331.73,428.07 331.27,428.09 330.82,428.11 330.36,428.13 329.90,428.15 329.44,428.17 328.98,428.19 328.52,428.21 328.06,428.22 327.60,428.24 327.14,428.26 326.68,428.28 326.22,428.30 325.76,428.32 325.30,428.34 324.84,428.36 324.38,428.37 323.92,428.39 323.46,428.41 323.00,428.43 322.54,428.45 322.08,428.47 321.62,428.49 321.16,428.51 320.70,428.52 320.24,428.54 319.78,428.56 319.32,428.58 318.86,428.60 318.40,428.62 317.94,428.64 317.48,428.66 317.02,428.67 316.56,428.69 316.10,428.71 315.64,428.73 315.18,428.75 314.72,428.77 314.26,428.79 313.80,428.80 313.34,428.82 312.88,428.84 312.42,428.86 311.96,428.88 311.50,428.90 311.04,428.92 310.58,428.94 310.12,428.95 309.66,428.97 309.20,428.99 308.74,429.01 308.28,429.03 307.82,429.05 307.36,429.07 306.90,429.08 306.44,429.10 305.98,429.12 305.52,429.14 305.06,429.16 304.60,429.18 304.14,429.20 303.68,429.22 303.22,429.23 302.76,429.25 302.30,429.27" fill="url(#strG)" stroke="none" fill-opacity="0.85"/>
<circle cx="296.5" cy="427.6" r="1.7" fill="none" stroke="#777" stroke-width="0.6"/>
<circle cx="298.1" cy="427.0" r="1.7" fill="none" stroke="#777" stroke-width="0.6"/>
<circle cx="299.8" cy="428.1" r="1.7" fill="none" stroke="#777" stroke-width="0.6"/>
<circle cx="301.4" cy="428.9" r="1.7" fill="none" stroke="#777" stroke-width="0.6"/>
<circle cx="303.0" cy="429.6" r="1.7" fill="none" stroke="#777" stroke-width="0.6"/>
<circle cx="304.7" cy="428.3" r="1.7" fill="none" stroke="#777" stroke-width="0.6"/>
<circle cx="306.3" cy="427.5" r="1.7" fill="none" stroke="#777" stroke-width="0.6"/>
<circle cx="307.9" cy="427.2" r="1.7" fill="none" stroke="#777" stroke-width="0.6"/>
<circle cx="309.6" cy="428.7" r="1.7" fill="none" stroke="#777" stroke-width="0.6"/>
<circle cx="311.2" cy="429.6" r="1.7" fill="none" stroke="#777" stroke-width="0.6"/>
<circle cx="312.9" cy="428.0" r="1.7" fill="none" stroke="#777" stroke-width="0.6"/>
<circle cx="314.5" cy="426.2" r="1.7" fill="none" stroke="#777" stroke-width="0.6"/>
<circle cx="316.1" cy="426.4" r="1.7" fill="none" stroke="#777" stroke-width="0.6"/>
<circle cx="317.8" cy="429.1" r="1.7" fill="none" stroke="#777" stroke-width="0.6"/>
<circle cx="319.4" cy="427.4" r="1.7" fill="none" stroke="#777" stroke-width="0.6"/>
<circle cx="321.0" cy="425.2" r="1.7" fill="none" stroke="#777" stroke-width="0.6"/>
<circle cx="322.7" cy="426.9" r="1.7" fill="none" stroke="#777" stroke-width="0.6"/>
<circle cx="324.3" cy="425.5" r="1.7" fill="none" stroke="#777" stroke-width="0.6"/>
<circle cx="325.9" cy="426.0" r="1.7" fill="none" stroke="#777" stroke-width="0.6"/>
<circle cx="327.6" cy="426.0" r="1.7" fill="none" stroke="#777" stroke-width="0.6"/>
<circle cx="329.2" cy="425.6" r="1.7" fill="none" stroke="#777" stroke-width="0.6"/>
<circle cx="330.8" cy="426.8" r="1.7" fill="none" stroke="#777" stroke-width="0.6"/>
<circle cx="332.5" cy="425.9" r="1.7" fill="none" stroke="#777" stroke-width="0.6"/>
<circle cx="334.1" cy="425.2" r="1.7" fill="none" stroke="#777" stroke-width="0.6"/>
<circle cx="335.7" cy="426.1" r="1.7" fill="none" stroke="#777" stroke-width="0.6"/>
<circle cx="337.4" cy="426.3" r="1.7" fill="none" stroke="#777" stroke-width="0.6"/>
<circle cx="339.0" cy="423.4" r="1.7" fill="none" stroke="#777" stroke-width="0.6"/>
<circle cx="340.7" cy="424.7" r="1.7" fill="none" stroke="#777" stroke-width="0.6"/>
<circle cx="342.3" cy="423.6" r="1.7" fill="none" stroke="#777" stroke-width="0.6"/>
<circle cx="343.9" cy="424.2" r="1.7" fill="none" stroke="#777" stroke-width="0.6"/>
<circle cx="345.6" cy="422.7" r="1.7" fill="none" stroke="#777" stroke-width="0.6"/>
<circle cx="347.2" cy="423.8" r="1.7" fill="none" stroke="#777" stroke-width="0.6"/>
<circle cx="348.8" cy="423.4" r="1.7" fill="none" stroke="#777" stroke-width="0.6"/>
<circle cx="350.5" cy="422.7" r="1.7" fill="none" stroke="#777" stroke-width="0.6"/>
<circle cx="352.1" cy="421.4" r="1.7" fill="none" stroke="#777" stroke-width="0.6"/>
<circle cx="353.7" cy="421.6" r="1.7" fill="none" stroke="#777" stroke-width="0.6"/>
<circle cx="355.4" cy="420.3" r="1.7" fill="none" stroke="#777" stroke-width="0.6"/>
<circle cx="357.0" cy="419.3" r="1.7" fill="none" stroke="#777" stroke-width="0.6"/>
<circle cx="358.6" cy="420.3" r="1.7" fill="none" stroke="#777" stroke-width="0.6"/>
<circle cx="360.3" cy="418.0" r="1.7" fill="none" stroke="#777" stroke-width="0.6"/>
<circle cx="361.9" cy="419.5" r="1.7" fill="none" stroke="#777" stroke-width="0.6"/>
<circle cx="363.5" cy="417.8" r="1.7" fill="none" stroke="#777" stroke-width="0.6"/>
<circle cx="365.2" cy="413.3" r="1.7" fill="none" stroke="#777" stroke-width="0.6"/>
<circle cx="366.8" cy="414.0" r="1.7" fill="none" stroke="#777" stroke-width="0.6"/>
<circle cx="368.5" cy="410.2" r="1.7" fill="none" stroke="#777" stroke-width="0.6"/>
<circle cx="370.1" cy="408.4" r="1.7" fill="none" stroke="#777" stroke-width="0.6"/>
<circle cx="371.7" cy="404.2" r="1.7" fill="none" stroke="#777" stroke-width="0.6"/>
<circle cx="373.4" cy="396.1" r="1.7" fill="none" stroke="#777" stroke-width="0.6"/>
<circle cx="375.0" cy="389.8" r="1.7" fill="none" stroke="#777" stroke-width="0.6"/>
<circle cx="376.6" cy="378.0" r="1.7" fill="none" stroke="#777" stroke-width="0.6"/>
<circle cx="378.3" cy="363.3" r="1.7" fill="none" stroke="#777" stroke-width="0.6"/>
<circle cx="379.9" cy="340.0" r="1.7" fill="none" stroke="#777" stroke-width="0.6"/>
<circle cx="381.5" cy="316.7" r="1.7" fill="none" stroke="#777" stroke-width="0.6"/>
<circle cx="383.2" cy="287.7" r="1.7" fill="none" stroke="#777" stroke-width="0.6"/>
<circle cx="384.8" cy="267.3" r="1.7" fill="none" stroke="#777" stroke-width="0.6"/>
<circle cx="386.4" cy="260.5" r="1.7" fill="none" stroke="#777" stroke-width="0.6"/>
<circle cx="388.1" cy="275.4" r="1.7" fill="none" stroke="#777" stroke-width="0.6"/>
<circle cx="389.7" cy="298.4" r="1.7" fill="none" stroke="#777" stroke-width="0.6"/>
<circle cx="391.3" cy="327.0" r="1.7" fill="none" stroke="#777" stroke-width="0.6"/>
<circle cx="393.0" cy="348.5" r="1.7" fill="none" stroke="#777" stroke-width="0.6"/>
<circle cx="394.6" cy="367.4" r="1.7" fill="none" stroke="#777" stroke-width="0.6"/>
<circle cx="396.3" cy="381.3" r="1.7" fill="none" stroke="#777" stroke-width="0.6"/>
<circle cx="397.9" cy="389.6" r="1.7" fill="none" stroke="#777" stroke-width="0.6"/>
<circle cx="399.5" cy="397.0" r="1.7" fill="none" stroke="#777" stroke-width="0.6"/>
<circle cx="401.2" cy="403.1" r="1.7" fill="none" stroke="#777" stroke-width="0.6"/>
<circle cx="402.8" cy="404.3" r="1.7" fill="none" stroke="#777" stroke-width="0.6"/>
<circle cx="404.4" cy="407.1" r="1.7" fill="none" stroke="#777" stroke-width="0.6"/>
<circle cx="406.1" cy="408.3" r="1.7" fill="none" stroke="#777" stroke-width="0.6"/>
<circle cx="407.7" cy="409.9" r="1.7" fill="none" stroke="#777" stroke-width="0.6"/>
<circle cx="409.3" cy="409.2" r="1.7" fill="none" stroke="#777" stroke-width="0.6"/>
<circle cx="411.0" cy="409.5" r="1.7" fill="none" stroke="#777" stroke-width="0.6"/>
<circle cx="412.6" cy="409.6" r="1.7" fill="none" stroke="#777" stroke-width="0.6"/>
<circle cx="414.2" cy="408.6" r="1.7" fill="none" stroke="#777" stroke-width="0.6"/>
<circle cx="415.9" cy="406.0" r="1.7" fill="none" stroke="#777" stroke-width="0.6"/>
<circle cx="417.5" cy="405.5" r="1.7" fill="none" stroke="#777" stroke-width="0.6"/>
<circle cx="419.2" cy="399.3" r="1.7" fill="none" stroke="#777" stroke-width="0.6"/>
<circle cx="420.8" cy="393.7" r="1.7" fill="none" stroke="#777" stroke-width="0.6"/>
<circle cx="422.4" cy="385.5" r="1.7" fill="none" stroke="#777" stroke-width="0.6"/>
<circle cx="424.1" cy="377.1" r="1.7" fill="none" stroke="#777" stroke-width="0.6"/>
<circle cx="425.7" cy="361.6" r="1.7" fill="none" stroke="#777" stroke-width="0.6"/>
<circle cx="427.3" cy="344.8" r="1.7" fill="none" stroke="#777" stroke-width="0.6"/>
<circle cx="429.0" cy="328.5" r="1.7" fill="none" stroke="#777" stroke-width="0.6"/>
<circle cx="430.6" cy="319.0" r="1.7" fill="none" stroke="#777" stroke-width="0.6"/>
<circle cx="432.2" cy="315.9" r="1.7" fill="none" stroke="#777" stroke-width="0.6"/>
<circle cx="433.9" cy="324.9" r="1.7" fill="none" stroke="#777" stroke-width="0.6"/>
<circle cx="435.5" cy="342.4" r="1.7" fill="none" stroke="#777" stroke-width="0.6"/>
<circle cx="437.1" cy="357.1" r="1.7" fill="none" stroke="#777" stroke-width="0.6"/>
<circle cx="438.8" cy="372.9" r="1.7" fill="none" stroke="#777" stroke-width="0.6"/>
<circle cx="440.4" cy="385.3" r="1.7" fill="none" stroke="#777" stroke-width="0.6"/>
<circle cx="442.0" cy="393.8" r="1.7" fill="none" stroke="#777" stroke-width="0.6"/>
<circle cx="443.7" cy="400.8" r="1.7" fill="none" stroke="#777" stroke-width="0.6"/>
<circle cx="445.3" cy="407.0" r="1.7" fill="none" stroke="#777" stroke-width="0.6"/>
<circle cx="447.0" cy="408.1" r="1.7" fill="none" stroke="#777" stroke-width="0.6"/>
<circle cx="448.6" cy="409.6" r="1.7" fill="none" stroke="#777" stroke-width="0.6"/>
<circle cx="450.2" cy="410.6" r="1.7" fill="none" stroke="#777" stroke-width="0.6"/>
<circle cx="451.9" cy="413.6" r="1.7" fill="none" stroke="#777" stroke-width="0.6"/>
<circle cx="453.5" cy="414.4" r="1.7" fill="none" stroke="#777" stroke-width="0.6"/>
<circle cx="455.1" cy="415.8" r="1.7" fill="none" stroke="#777" stroke-width="0.6"/>
<circle cx="456.8" cy="415.6" r="1.7" fill="none" stroke="#777" stroke-width="0.6"/>
<circle cx="458.4" cy="416.1" r="1.7" fill="none" stroke="#777" stroke-width="0.6"/>
<circle cx="460.0" cy="416.3" r="1.7" fill="none" stroke="#777" stroke-width="0.6"/>
<circle cx="461.7" cy="416.8" r="1.7" fill="none" stroke="#777" stroke-width="0.6"/>
<circle cx="463.3" cy="417.9" r="1.7" fill="none" stroke="#777" stroke-width="0.6"/>
<circle cx="464.9" cy="417.5" r="1.7" fill="none" stroke="#777" stroke-width="0.6"/>
<circle cx="466.6" cy="418.3" r="1.7" fill="none" stroke="#777" stroke-width="0.6"/>
<circle cx="468.2" cy="420.4" r="1.7" fill="none" stroke="#777" stroke-width="0.6"/>
<circle cx="469.8" cy="419.0" r="1.7" fill="none" stroke="#777" stroke-width="0.6"/>
<circle cx="471.5" cy="416.9" r="1.7" fill="none" stroke="#777" stroke-width="0.6"/>
<circle cx="473.1" cy="420.6" r="1.7" fill="none" stroke="#777" stroke-width="0.6"/>
<circle cx="474.8" cy="419.2" r="1.7" fill="none" stroke="#777" stroke-width="0.6"/>
<circle cx="476.4" cy="417.9" r="1.7" fill="none" stroke="#777" stroke-width="0.6"/>
<circle cx="478.0" cy="420.0" r="1.7" fill="none" stroke="#777" stroke-width="0.6"/>
<circle cx="479.7" cy="419.0" r="1.7" fill="none" stroke="#777" stroke-width="0.6"/>
<circle cx="481.3" cy="418.4" r="1.7" fill="none" stroke="#777" stroke-width="0.6"/>
<circle cx="482.9" cy="418.4" r="1.7" fill="none" stroke="#777" stroke-width="0.6"/>
<circle cx="484.6" cy="418.0" r="1.7" fill="none" stroke="#777" stroke-width="0.6"/>
<circle cx="486.2" cy="419.2" r="1.7" fill="none" stroke="#777" stroke-width="0.6"/>
<circle cx="487.8" cy="420.3" r="1.7" fill="none" stroke="#777" stroke-width="0.6"/>
<circle cx="489.5" cy="418.8" r="1.7" fill="none" stroke="#777" stroke-width="0.6"/>
<circle cx="491.1" cy="419.6" r="1.7" fill="none" stroke="#777" stroke-width="0.6"/>
<circle cx="492.7" cy="421.2" r="1.7" fill="none" stroke="#777" stroke-width="0.6"/>
<circle cx="494.4" cy="417.8" r="1.7" fill="none" stroke="#777" stroke-width="0.6"/>
<circle cx="496.0" cy="419.4" r="1.7" fill="none" stroke="#777" stroke-width="0.6"/>
<circle cx="497.6" cy="418.7" r="1.7" fill="none" stroke="#777" stroke-width="0.6"/>
<circle cx="499.3" cy="417.9" r="1.7" fill="none" stroke="#777" stroke-width="0.6"/>
<circle cx="500.9" cy="417.9" r="1.7" fill="none" stroke="#777" stroke-width="0.6"/>
<circle cx="502.6" cy="419.0" r="1.7" fill="none" stroke="#777" stroke-width="0.6"/>
<circle cx="504.2" cy="419.5" r="1.7" fill="none" stroke="#777" stroke-width="0.6"/>
<circle cx="505.8" cy="418.4" r="1.7" fill="none" stroke="#777" stroke-width="0.6"/>
<circle cx="507.5" cy="419.0" r="1.7" fill="none" stroke="#777" stroke-width="0.6"/>
<circle cx="509.1" cy="419.7" r="1.7" fill="none" stroke="#777" stroke-width="0.6"/>
<circle cx="510.7" cy="419.2" r="1.7" fill="none" stroke="#777" stroke-width="0.6"/>
<circle cx="512.4" cy="419.8" r="1.7" fill="none" stroke="#777" stroke-width="0.6"/>
<circle cx="514.0" cy="419.3" r="1.7" fill="none" stroke="#777" stroke-width="0.6"/>
<circle cx="515.6" cy="419.3" r="1.7" fill="none" stroke="#777" stroke-width="0.6"/>
<circle cx="517.3" cy="420.7" r="1.7" fill="none" stroke="#777" stroke-width="0.6"/>
<circle cx="518.9" cy="419.3" r="1.7" fill="none" stroke="#777" stroke-width="0.6"/>
<circle cx="520.5" cy="418.7" r="1.7" fill="none" stroke="#777" stroke-width="0.6"/>
<circle cx="522.2" cy="419.3" r="1.7" fill="none" stroke="#777" stroke-width="0.6"/>
<circle cx="523.8" cy="417.5" r="1.7" fill="none" stroke="#777" stroke-width="0.6"/>
<circle cx="525.4" cy="418.1" r="1.7" fill="none" stroke="#777" stroke-width="0.6"/>
<circle cx="527.1" cy="419.3" r="1.7" fill="none" stroke="#777" stroke-width="0.6"/>
<circle cx="528.7" cy="419.1" r="1.7" fill="none" stroke="#777" stroke-width="0.6"/>
<circle cx="530.4" cy="420.0" r="1.7" fill="none" stroke="#777" stroke-width="0.6"/>
<circle cx="532.0" cy="418.3" r="1.7" fill="none" stroke="#777" stroke-width="0.6"/>
<circle cx="533.6" cy="416.7" r="1.7" fill="none" stroke="#777" stroke-width="0.6"/>
<circle cx="535.3" cy="420.4" r="1.7" fill="none" stroke="#777" stroke-width="0.6"/>
<polyline points="302.30,429.27 304.60,429.18 306.90,429.08 309.20,428.99 311.50,428.90 313.80,428.80 316.10,428.71 318.40,428.62 320.70,428.52 323.00,428.43 325.30,428.34 327.60,428.24 329.90,428.15 332.19,428.06 334.49,427.96 336.79,427.87 339.09,427.77 341.39,427.68 343.69,427.58 345.99,427.49 348.29,427.40 350.59,427.30 352.89,427.20 355.19,427.11 357.49,427.01 359.79,426.92 362.09,426.82 364.39,426.72 366.69,426.62 368.99,426.52 371.29,426.42 373.59,426.31 375.89,426.20 378.19,426.08 380.49,425.94 382.79,425.78 385.09,425.61 387.39,425.42 389.68,425.25 391.98,425.09 394.28,424.96 396.58,424.84 398.88,424.72 401.18,424.61 403.48,424.51 405.78,424.41 408.08,424.31 410.38,424.20 412.68,424.10 414.98,424.00 417.28,423.90 419.58,423.79 421.88,423.69 424.18,423.57 426.48,423.44 428.78,423.31 431.08,423.16 433.38,423.00 435.68,422.86 437.98,422.73 440.28,422.61 442.58,422.50 444.88,422.39 447.17,422.29 449.47,422.19 451.77,422.09 454.07,422.00 456.37,421.90 458.67,421.81 460.97,421.71 463.27,421.61 465.57,421.52 467.87,421.43 470.17,421.33 472.47,421.24 474.77,421.14 477.07,421.05 479.37,420.95 481.67,420.86 483.97,420.77 486.27,420.67 488.57,420.58 490.87,420.49 493.17,420.39 495.47,420.30 497.77,420.21 500.07,420.11 502.37,420.02 504.66,419.93 506.96,419.83 509.26,419.74 511.56,419.65 513.86,419.55 516.16,419.46 518.46,419.37 520.76,419.27 523.06,419.18 525.36,419.09 527.66,418.99 529.96,418.90 531.80,418.83" fill="none" stroke="#1a2cf0" stroke-width="1.6" stroke-dasharray="4.6 4.6"/>
<polyline points="302.30,428.37 302.76,428.34 303.22,428.32 303.68,428.29 304.14,428.26 304.60,428.23 305.06,428.20 305.52,428.17 305.98,428.14 306.44,428.12 306.90,428.09 307.36,428.06 307.82,428.03 308.28,428.00 308.74,427.97 309.20,427.94 309.66,427.91 310.12,427.88 310.58,427.85 311.04,427.81 311.50,427.78 311.96,427.75 312.42,427.72 312.88,427.69 313.34,427.66 313.80,427.62 314.26,427.59 314.72,427.56 315.18,427.53 315.64,427.49 316.10,427.46 316.56,427.42 317.02,427.39 317.48,427.36 317.94,427.32 318.40,427.29 318.86,427.25 319.32,427.21 319.78,427.18 320.24,427.14 320.70,427.10 321.16,427.07 321.62,427.03 322.08,426.99 322.54,426.95 323.00,426.91 323.46,426.88 323.92,426.84 324.38,426.80 324.84,426.76 325.30,426.71 325.76,426.67 326.22,426.63 326.68,426.59 327.14,426.55 327.60,426.50 328.06,426.46 328.52,426.41 328.98,426.37 329.44,426.32 329.90,426.28 330.36,426.23 330.82,426.18 331.27,426.13 331.73,426.08 332.19,426.03 332.65,425.98 333.11,425.93 333.57,425.88 334.03,425.83 334.49,425.77 334.95,425.72 335.41,425.66 335.87,425.60 336.33,425.55 336.79,425.49 337.25,425.43 337.71,425.37 338.17,425.30 338.63,425.24 339.09,425.18 339.55,425.11 340.01,425.04 340.47,424.97 340.93,424.90 341.39,424.83 341.85,424.76 342.31,424.68 342.77,424.61 343.23,424.53 343.69,424.45 344.15,424.37 344.61,424.28 345.07,424.20 345.53,424.11 345.99,424.02 346.45,423.93 346.91,423.83 347.37,423.74 347.83,423.64 348.29,423.53 348.75,423.43 349.21,423.32 349.67,423.20 350.13,423.09 350.59,422.97 351.05,422.85 351.51,422.72 351.97,422.59 352.43,422.46 352.89,422.32 353.35,422.17 353.81,422.02 354.27,421.87 354.73,421.71 355.19,421.54 355.65,421.37 356.11,421.19 356.57,421.01 357.03,420.81 357.49,420.61 357.95,420.40 358.41,420.19 358.87,419.96 359.33,419.72 359.79,419.48 360.25,419.22 360.71,418.95 361.17,418.67 361.63,418.37 362.09,418.06 362.55,417.73 363.01,417.39 363.47,417.03 363.93,416.65 364.39,416.24 364.85,415.82 365.31,415.37 365.77,414.89 366.23,414.38 366.69,413.84 367.15,413.26 367.61,412.63 368.07,411.97 368.53,411.25 368.99,410.47 369.45,409.62 369.91,408.71 370.37,407.71 370.83,406.62 371.29,405.42 371.75,404.10 372.21,402.65 372.67,401.06 373.13,399.30 373.59,397.35 374.05,395.20 374.51,392.82 374.97,390.20 375.43,387.32 375.89,384.14 376.35,380.65 376.81,376.83 377.27,372.65 377.73,368.11 378.19,363.18 378.65,357.85 379.11,352.13 379.57,346.01 380.03,339.51 380.49,332.65 380.95,325.47 381.41,318.04 381.87,310.42 382.33,302.75 382.79,295.15 383.25,287.80 383.71,280.91 384.17,274.71 384.63,269.44 385.09,265.31 385.55,262.54 386.01,261.25 386.47,261.52 386.93,263.32 387.39,266.55 387.85,271.06 388.31,276.63 388.76,283.02 389.22,290.00 389.68,297.34 390.14,304.87 390.60,312.41 391.06,319.83 391.52,327.04 391.98,333.97 392.44,340.56 392.90,346.77 393.36,352.60 393.82,358.03 394.28,363.06 394.74,367.70 395.20,371.97 395.66,375.86 396.12,379.42 396.58,382.65 397.04,385.57 397.50,388.21 397.96,390.60 398.42,392.74 398.88,394.67 399.34,396.39 399.80,397.94 400.26,399.33 400.72,400.58 401.18,401.69 401.64,402.69 402.10,403.59 402.56,404.39 403.02,405.11 403.48,405.76 403.94,406.34 404.40,406.85 404.86,407.32 405.32,407.73 405.78,408.09 406.24,408.42 406.70,408.70 407.16,408.95 407.62,409.16 408.08,409.33 408.54,409.47 409.00,409.59 409.46,409.66 409.92,409.71 410.38,409.73 410.84,409.71 411.30,409.67 411.76,409.59 412.22,409.47 412.68,409.32 413.14,409.12 413.60,408.89 414.06,408.61 414.52,408.28 414.98,407.89 415.44,407.44 415.90,406.93 416.36,406.35 416.82,405.68 417.28,404.92 417.74,404.06 418.20,403.10 418.66,402.01 419.12,400.78 419.58,399.41 420.04,397.89 420.50,396.19 420.96,394.30 421.42,392.22 421.88,389.93 422.34,387.42 422.80,384.69 423.26,381.71 423.72,378.50 424.18,375.04 424.64,371.35 425.10,367.42 425.56,363.27 426.02,358.93 426.48,354.42 426.94,349.79 427.40,345.10 427.86,340.41 428.32,335.82 428.78,331.44 429.24,327.37 429.70,323.76 430.16,320.73 430.62,318.41 431.08,316.91 431.54,316.28 432.00,316.57 432.46,317.76 432.92,319.80 433.38,322.59 433.84,326.02 434.30,329.95 434.76,334.26 435.22,338.83 435.68,343.53 436.14,348.27 436.60,352.98 437.06,357.59 437.52,362.05 437.98,366.34 438.44,370.41 438.90,374.26 439.36,377.88 439.82,381.25 440.28,384.39 440.74,387.30 441.20,389.97 441.66,392.42 442.12,394.67 442.58,396.71 443.04,398.58 443.50,400.26 443.96,401.79 444.42,403.17 444.88,404.42 445.34,405.55 445.79,406.56 446.25,407.48 446.71,408.31 447.17,409.06 447.63,409.74 448.09,410.36 448.55,410.92 449.01,411.44 449.47,411.91 449.93,412.34 450.39,412.74 450.85,413.11 451.31,413.45 451.77,413.76 452.23,414.06 452.69,414.33 453.15,414.59 453.61,414.83 454.07,415.06 454.53,415.27 454.99,415.47 455.45,415.66 455.91,415.84 456.37,416.01 456.83,416.17 457.29,416.32 457.75,416.46 458.21,416.60 458.67,416.73 459.13,416.85 459.59,416.96 460.05,417.07 460.51,417.18 460.97,417.28 461.43,417.37 461.89,417.47 462.35,417.55 462.81,417.63 463.27,417.71 463.73,417.79 464.19,417.86 464.65,417.92 465.11,417.99 465.57,418.05 466.03,418.11 466.49,418.17 466.95,418.22 467.41,418.27 467.87,418.32 468.33,418.36 468.79,418.41 469.25,418.45 469.71,418.49 470.17,418.53 470.63,418.57 471.09,418.60 471.55,418.63 472.01,418.67 472.47,418.70 472.93,418.72 473.39,418.75 473.85,418.78 474.31,418.80 474.77,418.83 475.23,418.85 475.69,418.87 476.15,418.89 476.61,418.91 477.07,418.93 477.53,418.94 477.99,418.96 478.45,418.97 478.91,418.99 479.37,419.00 479.83,419.01 480.29,419.03 480.75,419.04 481.21,419.05 481.67,419.06 482.13,419.07 482.59,419.07 483.05,419.08 483.51,419.09 483.97,419.09 484.43,419.10 484.89,419.11 485.35,419.11 485.81,419.11 486.27,419.12 486.73,419.12 487.19,419.12 487.65,419.13 488.11,419.13 488.57,419.13 489.03,419.13 489.49,419.13 489.95,419.13 490.41,419.13 490.87,419.13 491.33,419.13 491.79,419.13 492.25,419.12 492.71,419.12 493.17,419.12 493.63,419.12 494.09,419.11 494.55,419.11 495.01,419.11 495.47,419.10 495.93,419.10 496.39,419.09 496.85,419.09 497.31,419.08 497.77,419.08 498.23,419.07 498.69,419.07 499.15,419.06 499.61,419.06 500.07,419.05 500.53,419.04 500.99,419.04 501.45,419.03 501.91,419.02 502.37,419.01 502.83,419.01 503.28,419.00 503.74,418.99 504.20,418.98 504.66,418.97 505.12,418.97 505.58,418.96 506.04,418.95 506.50,418.94 506.96,418.93 507.42,418.92 507.88,418.91 508.34,418.90 508.80,418.89 509.26,418.88 509.72,418.87 510.18,418.86 510.64,418.85 511.10,418.84 511.56,418.83 512.02,418.82 512.48,418.81 512.94,418.80 513.40,418.79 513.86,418.78 514.32,418.76 514.78,418.75 515.24,418.74 515.70,418.73 516.16,418.72 516.62,418.71 517.08,418.69 517.54,418.68 518.00,418.67 518.46,418.66 518.92,418.65 519.38,418.63 519.84,418.62 520.30,418.61 520.76,418.60 521.22,418.58 521.68,418.57 522.14,418.56 522.60,418.54 523.06,418.53 523.52,418.52 523.98,418.51 524.44,418.49 524.90,418.48 525.36,418.47 525.82,418.45 526.28,418.44 526.74,418.43 527.20,418.41 527.66,418.40 528.12,418.38 528.58,418.37 529.04,418.36 529.50,418.34 529.96,418.33 530.42,418.31 530.88,418.30 531.34,418.29 531.80,418.27" fill="none" stroke="#ee2b2b" stroke-width="1.2"/>
<rect x="295" y="248.7" width="245.30" height="201.30" fill="none" stroke="#555" stroke-width="1.4"/>
<line x1="303.18" y1="450" x2="303.18" y2="447" stroke="#555" stroke-width="1"/>
<text x="303.18" y="462.7" font-size="10.5" text-anchor="middle">198</text>
<line x1="319.53" y1="450" x2="319.53" y2="448.4" stroke="#555" stroke-width="1"/>
<line x1="335.88" y1="450" x2="335.88" y2="447" stroke="#555" stroke-width="1"/>
<text x="335.88" y="462.7" font-size="10.5" text-anchor="middle">200</text>
<line x1="352.24" y1="450" x2="352.24" y2="448.4" stroke="#555" stroke-width="1"/>
<line x1="368.59" y1="450" x2="368.59" y2="447" stroke="#555" stroke-width="1"/>
<text x="368.59" y="462.7" font-size="10.5" text-anchor="middle">202</text>
<line x1="384.94" y1="450" x2="384.94" y2="448.4" stroke="#555" stroke-width="1"/>
<line x1="401.30" y1="450" x2="401.30" y2="447" stroke="#555" stroke-width="1"/>
<text x="401.30" y="462.7" font-size="10.5" text-anchor="middle">204</text>
<line x1="417.65" y1="450" x2="417.65" y2="448.4" stroke="#555" stroke-width="1"/>
<line x1="434.00" y1="450" x2="434.00" y2="447" stroke="#555" stroke-width="1"/>
<text x="434.00" y="462.7" font-size="10.5" text-anchor="middle">206</text>
<line x1="450.36" y1="450" x2="450.36" y2="448.4" stroke="#555" stroke-width="1"/>
<line x1="466.71" y1="450" x2="466.71" y2="447" stroke="#555" stroke-width="1"/>
<text x="466.71" y="462.7" font-size="10.5" text-anchor="middle">208</text>
<line x1="483.06" y1="450" x2="483.06" y2="448.4" stroke="#555" stroke-width="1"/>
<line x1="499.42" y1="450" x2="499.42" y2="447" stroke="#555" stroke-width="1"/>
<text x="499.42" y="462.7" font-size="10.5" text-anchor="middle">210</text>
<line x1="515.77" y1="450" x2="515.77" y2="448.4" stroke="#555" stroke-width="1"/>
<line x1="532.12" y1="450" x2="532.12" y2="447" stroke="#555" stroke-width="1"/>
<text x="532.12" y="462.7" font-size="10.5" text-anchor="middle">212</text>
<text x="151.3" y="478.4" font-size="13" text-anchor="middle">Binding energy(eV)</text>
<text x="419.1" y="478.4" font-size="13" text-anchor="middle">Binding energy(eV)</text>
<text transform="translate(22.6,340.5) rotate(-90)" font-size="13" text-anchor="middle">Intensity(a.u.)</text>
<text transform="translate(288.3,350.8) rotate(-90)" font-size="13" text-anchor="middle">Intensity(a.u.)</text>
<text x="31.8" y="262.2" font-size="10.2">(b) Ti2p</text>
<text x="298.1" y="261.6" font-size="10.2">(c) Nb3d</text>
<text x="113.6" y="268.9" font-size="10.2">Ti2p<tspan font-size="7" dy="2.5">3/2</tspan></text>
<text x="136.4" y="335.6" font-size="10.2">Ti<tspan font-size="7" dy="-4.5">4+</tspan></text>
<line x1="120.2" y1="342.3" x2="131.17" y2="335.99" stroke="#111" stroke-width="1.2"/><polygon points="135.5,333.5 131.65,338.83 130.99,336.09 128.95,334.15" fill="#111"/>
<text x="205.2" y="375.1" font-size="10.2">Ti2p<tspan font-size="7" dy="2.5">1/2</tspan></text>
<text x="350.5" y="271.8" font-size="10.2">Nb3d<tspan font-size="7" dy="2.5">5/2</tspan></text>
<text x="344.1" y="333.6" font-size="10.2">Nb<tspan font-size="7" dy="-4.5">4+</tspan></text>
<line x1="375.9" y1="337.7" x2="363.96" y2="334.79" stroke="#111" stroke-width="1.2"/><polygon points="359.1,333.6 365.57,332.40 364.15,334.83 364.29,337.65" fill="#111"/>
<text x="436.1" y="327.4" font-size="10.2">Nb3d<tspan font-size="7" dy="2.5">3/2</tspan></text>
<circle cx="196.8" cy="257.7" r="1.7" fill="none" stroke="#666" stroke-width="0.7"/>
<text x="211.4" y="261.1" font-size="10.2">Raw Intensity</text>
<line x1="185.2" y1="270.6" x2="208.6" y2="270.6" stroke="#f21d1d" stroke-width="1.5"/>
<text x="211.4" y="274.1" font-size="10.2">Peak Sum</text>
<line x1="185.2" y1="283.70000000000005" x2="208.6" y2="283.70000000000005" stroke="#1a2cf0" stroke-width="1.6" stroke-dasharray="4.6 4.6"/>
<text x="211.4" y="287.1" font-size="10.2">Background</text>
<rect x="185.2" y="291.3" width="23.4" height="11.1" fill="url(#dotsG)" fill-opacity="0.85" stroke="#888" stroke-width="0.6"/>
<text x="211.4" y="300.1" font-size="10.2" xml:space="preserve">Peak 1</text>
<rect x="185.2" y="304.4" width="23.4" height="11.1" fill="url(#strP)" fill-opacity="0.85" stroke="#888" stroke-width="0.6"/>
<text x="211.4" y="313.1" font-size="10.2" xml:space="preserve">Peak 2</text>
<circle cx="462.9" cy="259.3" r="1.7" fill="none" stroke="#666" stroke-width="0.7"/>
<text x="477.2" y="263.1" font-size="10.2">Raw Intensity</text>
<line x1="450.5" y1="272.6" x2="474.7" y2="272.6" stroke="#f21d1d" stroke-width="1.5"/>
<text x="477.2" y="276.1" font-size="10.2">Peak Sum</text>
<line x1="450.5" y1="285.70000000000005" x2="474.7" y2="285.70000000000005" stroke="#1a2cf0" stroke-width="1.6" stroke-dasharray="4.6 4.6"/>
<text x="477.2" y="289.1" font-size="10.2">Background</text>
<rect x="450.5" y="293.7" width="24.2" height="10.8" fill="url(#strG)" fill-opacity="0.85" stroke="#888" stroke-width="0.6"/>
<text x="477.2" y="302.1" font-size="10.2" xml:space="preserve">Peak  1</text>
<rect x="450.5" y="306.2" width="24.2" height="10.9" fill="url(#dotsP)" fill-opacity="0.85" stroke="#888" stroke-width="0.6"/>
<text x="477.2" y="315.1" font-size="10.2" xml:space="preserve">Peak  2</text>
</svg>
</body></html>
